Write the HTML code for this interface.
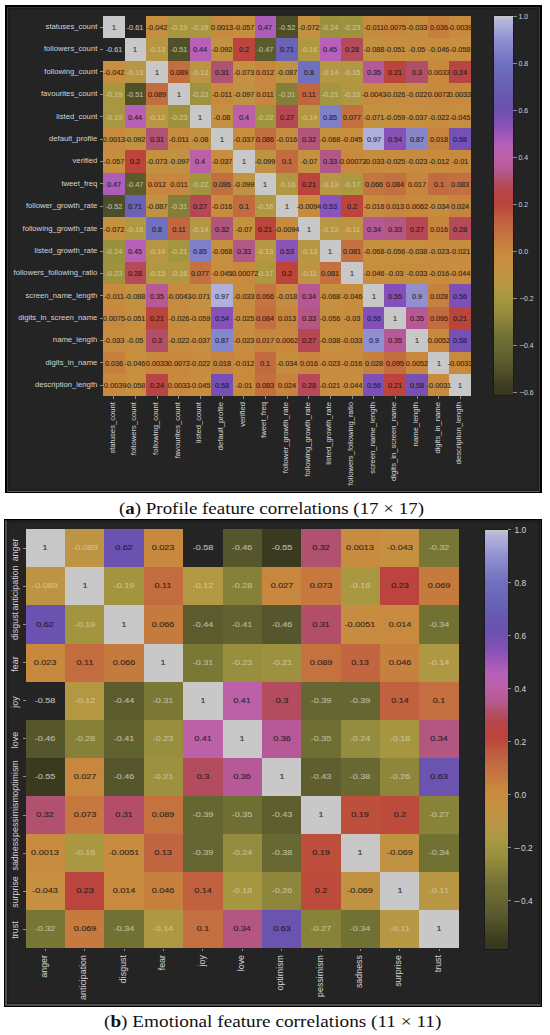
<!DOCTYPE html><html><head><meta charset="utf-8"><style>
*{margin:0;padding:0;box-sizing:border-box}
html,body{width:550px;height:1035px;background:#fff;overflow:hidden;position:relative}
body{font-family:"Liberation Sans",sans-serif}
.panel{position:absolute;background:#242424;border:2px solid #050505;box-shadow:inset 0 0 0 1px #3e3e3e, inset 0 0 0 2px #141414}
.c{position:absolute}
.a{position:absolute;white-space:nowrap;text-align:center;line-height:1;-webkit-text-stroke:0.15px currentColor}
.lbl{position:absolute;white-space:nowrap;color:#d4d4d4;line-height:1}
.tk{position:absolute;background:#8a8a8a}
.cap{position:absolute;white-space:nowrap;font-family:"Liberation Serif",serif;color:#111;line-height:1}
</style></head><body>
<div class="c" style="left:5px;top:5px;width:537px;height:488px;background:#000"></div>
<div class="c" style="left:7px;top:7px;width:533px;height:485px;background:#242424;border-style:solid;border-width:1px;border-color:#2e2e2e #3a3a3a #5c5c5c #3c3c3c;box-shadow:inset 0 0 2px 1px #1a1a1a"></div>
<div class="c" style="left:4px;top:519px;width:538px;height:488px;background:#000"></div>
<div class="c" style="left:5px;top:520px;width:536px;height:486px;background:#242424;border-style:solid;border-width:1px 1px 2px 2px;border-color:#1c1c1c #2a2a2a #4c4c4c #505050;box-shadow:inset 0 0 2px 1px #1a1a1a"></div>
<div class="c" style="left:102.90px;top:15.80px;width:22.26px;height:22.99px;background:#c8c8c8"></div>
<div class="c" style="left:124.56px;top:15.80px;width:22.26px;height:22.99px;background:#252525"></div>
<div class="c" style="left:146.22px;top:15.80px;width:22.26px;height:22.99px;background:#c78e3f"></div>
<div class="c" style="left:167.88px;top:15.80px;width:22.26px;height:22.99px;background:#a89740"></div>
<div class="c" style="left:189.54px;top:15.80px;width:22.26px;height:22.99px;background:#a89740"></div>
<div class="c" style="left:211.20px;top:15.80px;width:22.26px;height:22.99px;background:#c88a3e"></div>
<div class="c" style="left:232.86px;top:15.80px;width:22.26px;height:22.99px;background:#c68f40"></div>
<div class="c" style="left:254.52px;top:15.80px;width:22.26px;height:22.99px;background:#ab5db8"></div>
<div class="c" style="left:276.18px;top:15.80px;width:22.26px;height:22.99px;background:#4d4d27"></div>
<div class="c" style="left:297.84px;top:15.80px;width:22.26px;height:22.99px;background:#c49141"></div>
<div class="c" style="left:319.50px;top:15.80px;width:22.26px;height:22.99px;background:#9b903e"></div>
<div class="c" style="left:341.16px;top:15.80px;width:22.26px;height:22.99px;background:#9e923f"></div>
<div class="c" style="left:362.82px;top:15.80px;width:22.26px;height:22.99px;background:#c88b3e"></div>
<div class="c" style="left:384.48px;top:15.80px;width:22.26px;height:22.99px;background:#c8883e"></div>
<div class="c" style="left:406.14px;top:15.80px;width:22.26px;height:22.99px;background:#c78d3f"></div>
<div class="c" style="left:427.80px;top:15.80px;width:22.26px;height:22.99px;background:#c77f3e"></div>
<div class="c" style="left:449.46px;top:15.80px;width:21.66px;height:22.99px;background:#c88a3e"></div>
<div class="c" style="left:102.90px;top:38.19px;width:22.26px;height:22.99px;background:#252525"></div>
<div class="c" style="left:124.56px;top:38.19px;width:22.26px;height:22.99px;background:#c8c8c8"></div>
<div class="c" style="left:146.22px;top:38.19px;width:22.26px;height:22.99px;background:#b79644"></div>
<div class="c" style="left:167.88px;top:38.19px;width:22.26px;height:22.99px;background:#505029"></div>
<div class="c" style="left:189.54px;top:38.19px;width:22.26px;height:22.99px;background:#b760b5"></div>
<div class="c" style="left:211.20px;top:38.19px;width:22.26px;height:22.99px;background:#c09242"></div>
<div class="c" style="left:232.86px;top:38.19px;width:22.26px;height:22.99px;background:#bc443a"></div>
<div class="c" style="left:254.52px;top:38.19px;width:22.26px;height:22.99px;background:#5b5b2e"></div>
<div class="c" style="left:276.18px;top:38.19px;width:22.26px;height:22.99px;background:#6962b5"></div>
<div class="c" style="left:297.84px;top:38.19px;width:22.26px;height:22.99px;background:#b09843"></div>
<div class="c" style="left:319.50px;top:38.19px;width:22.26px;height:22.99px;background:#b660b8"></div>
<div class="c" style="left:341.16px;top:38.19px;width:22.26px;height:22.99px;background:#b44a5a"></div>
<div class="c" style="left:362.82px;top:38.19px;width:22.26px;height:22.99px;background:#c19242"></div>
<div class="c" style="left:384.48px;top:38.19px;width:22.26px;height:22.99px;background:#c68f40"></div>
<div class="c" style="left:406.14px;top:38.19px;width:22.26px;height:22.99px;background:#c68f40"></div>
<div class="c" style="left:427.80px;top:38.19px;width:22.26px;height:22.99px;background:#c78e3f"></div>
<div class="c" style="left:449.46px;top:38.19px;width:21.66px;height:22.99px;background:#c69040"></div>
<div class="c" style="left:102.90px;top:60.58px;width:22.26px;height:22.99px;background:#c78e3f"></div>
<div class="c" style="left:124.56px;top:60.58px;width:22.26px;height:22.99px;background:#b79644"></div>
<div class="c" style="left:146.22px;top:60.58px;width:22.26px;height:22.99px;background:#c8c8c8"></div>
<div class="c" style="left:167.88px;top:60.58px;width:22.26px;height:22.99px;background:#c36e40"></div>
<div class="c" style="left:189.54px;top:60.58px;width:22.26px;height:22.99px;background:#ba9544"></div>
<div class="c" style="left:211.20px;top:60.58px;width:22.26px;height:22.99px;background:#b05272"></div>
<div class="c" style="left:232.86px;top:60.58px;width:22.26px;height:22.99px;background:#c49141"></div>
<div class="c" style="left:254.52px;top:60.58px;width:22.26px;height:22.99px;background:#c8863e"></div>
<div class="c" style="left:276.18px;top:60.58px;width:22.26px;height:22.99px;background:#c19242"></div>
<div class="c" style="left:297.84px;top:60.58px;width:22.26px;height:22.99px;background:#7070c0"></div>
<div class="c" style="left:319.50px;top:60.58px;width:22.26px;height:22.99px;background:#b59643"></div>
<div class="c" style="left:341.16px;top:60.58px;width:22.26px;height:22.99px;background:#b29743"></div>
<div class="c" style="left:362.82px;top:60.58px;width:22.26px;height:22.99px;background:#b75996"></div>
<div class="c" style="left:384.48px;top:60.58px;width:22.26px;height:22.99px;background:#bb443c"></div>
<div class="c" style="left:406.14px;top:60.58px;width:22.26px;height:22.99px;background:#b14f6a"></div>
<div class="c" style="left:427.80px;top:60.58px;width:22.26px;height:22.99px;background:#c8893e"></div>
<div class="c" style="left:449.46px;top:60.58px;width:21.66px;height:22.99px;background:#b94444"></div>
<div class="c" style="left:102.90px;top:82.97px;width:22.26px;height:22.99px;background:#a89740"></div>
<div class="c" style="left:124.56px;top:82.97px;width:22.26px;height:22.99px;background:#505029"></div>
<div class="c" style="left:146.22px;top:82.97px;width:22.26px;height:22.99px;background:#c36e40"></div>
<div class="c" style="left:167.88px;top:82.97px;width:22.26px;height:22.99px;background:#c8c8c8"></div>
<div class="c" style="left:189.54px;top:82.97px;width:22.26px;height:22.99px;background:#9e923f"></div>
<div class="c" style="left:211.20px;top:82.97px;width:22.26px;height:22.99px;background:#c88b3e"></div>
<div class="c" style="left:232.86px;top:82.97px;width:22.26px;height:22.99px;background:#bf9343"></div>
<div class="c" style="left:254.52px;top:82.97px;width:22.26px;height:22.99px;background:#c8873e"></div>
<div class="c" style="left:276.18px;top:82.97px;width:22.26px;height:22.99px;background:#847f38"></div>
<div class="c" style="left:297.84px;top:82.97px;width:22.26px;height:22.99px;background:#c16740"></div>
<div class="c" style="left:319.50px;top:82.97px;width:22.26px;height:22.99px;background:#a3963f"></div>
<div class="c" style="left:341.16px;top:82.97px;width:22.26px;height:22.99px;background:#b09843"></div>
<div class="c" style="left:362.82px;top:82.97px;width:22.26px;height:22.99px;background:#c88a3e"></div>
<div class="c" style="left:384.48px;top:82.97px;width:22.26px;height:22.99px;background:#c78d3f"></div>
<div class="c" style="left:406.14px;top:82.97px;width:22.26px;height:22.99px;background:#c78c3f"></div>
<div class="c" style="left:427.80px;top:82.97px;width:22.26px;height:22.99px;background:#c8883e"></div>
<div class="c" style="left:449.46px;top:82.97px;width:21.66px;height:22.99px;background:#c8893e"></div>
<div class="c" style="left:102.90px;top:105.36px;width:22.26px;height:22.99px;background:#a89740"></div>
<div class="c" style="left:124.56px;top:105.36px;width:22.26px;height:22.99px;background:#b760b5"></div>
<div class="c" style="left:146.22px;top:105.36px;width:22.26px;height:22.99px;background:#ba9544"></div>
<div class="c" style="left:167.88px;top:105.36px;width:22.26px;height:22.99px;background:#9e923f"></div>
<div class="c" style="left:189.54px;top:105.36px;width:22.26px;height:22.99px;background:#c8c8c8"></div>
<div class="c" style="left:211.20px;top:105.36px;width:22.26px;height:22.99px;background:#c29141"></div>
<div class="c" style="left:232.86px;top:105.36px;width:22.26px;height:22.99px;background:#bc60a8"></div>
<div class="c" style="left:254.52px;top:105.36px;width:22.26px;height:22.99px;background:#a0943f"></div>
<div class="c" style="left:276.18px;top:105.36px;width:22.26px;height:22.99px;background:#b54853"></div>
<div class="c" style="left:297.84px;top:105.36px;width:22.26px;height:22.99px;background:#b59643"></div>
<div class="c" style="left:319.50px;top:105.36px;width:22.26px;height:22.99px;background:#8080c8"></div>
<div class="c" style="left:341.16px;top:105.36px;width:22.26px;height:22.99px;background:#c4713f"></div>
<div class="c" style="left:362.82px;top:105.36px;width:22.26px;height:22.99px;background:#c49141"></div>
<div class="c" style="left:384.48px;top:105.36px;width:22.26px;height:22.99px;background:#c69040"></div>
<div class="c" style="left:406.14px;top:105.36px;width:22.26px;height:22.99px;background:#c78e3f"></div>
<div class="c" style="left:427.80px;top:105.36px;width:22.26px;height:22.99px;background:#c78c3f"></div>
<div class="c" style="left:449.46px;top:105.36px;width:21.66px;height:22.99px;background:#c78e3f"></div>
<div class="c" style="left:102.90px;top:127.75px;width:22.26px;height:22.99px;background:#c88a3e"></div>
<div class="c" style="left:124.56px;top:127.75px;width:22.26px;height:22.99px;background:#c09242"></div>
<div class="c" style="left:146.22px;top:127.75px;width:22.26px;height:22.99px;background:#b05272"></div>
<div class="c" style="left:167.88px;top:127.75px;width:22.26px;height:22.99px;background:#c88b3e"></div>
<div class="c" style="left:189.54px;top:127.75px;width:22.26px;height:22.99px;background:#c29141"></div>
<div class="c" style="left:211.20px;top:127.75px;width:22.26px;height:22.99px;background:#c8c8c8"></div>
<div class="c" style="left:232.86px;top:127.75px;width:22.26px;height:22.99px;background:#c78e3f"></div>
<div class="c" style="left:254.52px;top:127.75px;width:22.26px;height:22.99px;background:#c36e3f"></div>
<div class="c" style="left:276.18px;top:127.75px;width:22.26px;height:22.99px;background:#c78c3f"></div>
<div class="c" style="left:297.84px;top:127.75px;width:22.26px;height:22.99px;background:#b1557a"></div>
<div class="c" style="left:319.50px;top:127.75px;width:22.26px;height:22.99px;background:#c59040"></div>
<div class="c" style="left:341.16px;top:127.75px;width:22.26px;height:22.99px;background:#c78e3f"></div>
<div class="c" style="left:362.82px;top:127.75px;width:22.26px;height:22.99px;background:#b0b0da"></div>
<div class="c" style="left:384.48px;top:127.75px;width:22.26px;height:22.99px;background:#8751b8"></div>
<div class="c" style="left:406.14px;top:127.75px;width:22.26px;height:22.99px;background:#8686cb"></div>
<div class="c" style="left:427.80px;top:127.75px;width:22.26px;height:22.99px;background:#c7843e"></div>
<div class="c" style="left:449.46px;top:127.75px;width:21.66px;height:22.99px;background:#7650b3"></div>
<div class="c" style="left:102.90px;top:150.14px;width:22.26px;height:22.99px;background:#c68f40"></div>
<div class="c" style="left:124.56px;top:150.14px;width:22.26px;height:22.99px;background:#bc443a"></div>
<div class="c" style="left:146.22px;top:150.14px;width:22.26px;height:22.99px;background:#c49141"></div>
<div class="c" style="left:167.88px;top:150.14px;width:22.26px;height:22.99px;background:#bf9343"></div>
<div class="c" style="left:189.54px;top:150.14px;width:22.26px;height:22.99px;background:#bc60a8"></div>
<div class="c" style="left:211.20px;top:150.14px;width:22.26px;height:22.99px;background:#c78e3f"></div>
<div class="c" style="left:232.86px;top:150.14px;width:22.26px;height:22.99px;background:#c8c8c8"></div>
<div class="c" style="left:254.52px;top:150.14px;width:22.26px;height:22.99px;background:#be9343"></div>
<div class="c" style="left:276.18px;top:150.14px;width:22.26px;height:22.99px;background:#c26a40"></div>
<div class="c" style="left:297.84px;top:150.14px;width:22.26px;height:22.99px;background:#c49141"></div>
<div class="c" style="left:319.50px;top:150.14px;width:22.26px;height:22.99px;background:#b35785"></div>
<div class="c" style="left:341.16px;top:150.14px;width:22.26px;height:22.99px;background:#c88a3e"></div>
<div class="c" style="left:362.82px;top:150.14px;width:22.26px;height:22.99px;background:#c78d3f"></div>
<div class="c" style="left:384.48px;top:150.14px;width:22.26px;height:22.99px;background:#c78c3f"></div>
<div class="c" style="left:406.14px;top:150.14px;width:22.26px;height:22.99px;background:#c78c3f"></div>
<div class="c" style="left:427.80px;top:150.14px;width:22.26px;height:22.99px;background:#c88b3e"></div>
<div class="c" style="left:449.46px;top:150.14px;width:21.66px;height:22.99px;background:#c88b3e"></div>
<div class="c" style="left:102.90px;top:172.53px;width:22.26px;height:22.99px;background:#ab5db8"></div>
<div class="c" style="left:124.56px;top:172.53px;width:22.26px;height:22.99px;background:#5b5b2e"></div>
<div class="c" style="left:146.22px;top:172.53px;width:22.26px;height:22.99px;background:#c8863e"></div>
<div class="c" style="left:167.88px;top:172.53px;width:22.26px;height:22.99px;background:#c8873e"></div>
<div class="c" style="left:189.54px;top:172.53px;width:22.26px;height:22.99px;background:#a0943f"></div>
<div class="c" style="left:211.20px;top:172.53px;width:22.26px;height:22.99px;background:#c36e3f"></div>
<div class="c" style="left:232.86px;top:172.53px;width:22.26px;height:22.99px;background:#be9343"></div>
<div class="c" style="left:254.52px;top:172.53px;width:22.26px;height:22.99px;background:#c8c8c8"></div>
<div class="c" style="left:276.18px;top:172.53px;width:22.26px;height:22.99px;background:#b09843"></div>
<div class="c" style="left:297.84px;top:172.53px;width:22.26px;height:22.99px;background:#bb443c"></div>
<div class="c" style="left:319.50px;top:172.53px;width:22.26px;height:22.99px;background:#b79644"></div>
<div class="c" style="left:341.16px;top:172.53px;width:22.26px;height:22.99px;background:#ad9842"></div>
<div class="c" style="left:362.82px;top:172.53px;width:22.26px;height:22.99px;background:#c5753f"></div>
<div class="c" style="left:384.48px;top:172.53px;width:22.26px;height:22.99px;background:#c36f3f"></div>
<div class="c" style="left:406.14px;top:172.53px;width:22.26px;height:22.99px;background:#c7853e"></div>
<div class="c" style="left:427.80px;top:172.53px;width:22.26px;height:22.99px;background:#c26a40"></div>
<div class="c" style="left:449.46px;top:172.53px;width:21.66px;height:22.99px;background:#c36f3f"></div>
<div class="c" style="left:102.90px;top:194.92px;width:22.26px;height:22.99px;background:#4d4d27"></div>
<div class="c" style="left:124.56px;top:194.92px;width:22.26px;height:22.99px;background:#6962b5"></div>
<div class="c" style="left:146.22px;top:194.92px;width:22.26px;height:22.99px;background:#c19242"></div>
<div class="c" style="left:167.88px;top:194.92px;width:22.26px;height:22.99px;background:#847f38"></div>
<div class="c" style="left:189.54px;top:194.92px;width:22.26px;height:22.99px;background:#b54853"></div>
<div class="c" style="left:211.20px;top:194.92px;width:22.26px;height:22.99px;background:#c78c3f"></div>
<div class="c" style="left:232.86px;top:194.92px;width:22.26px;height:22.99px;background:#c26a40"></div>
<div class="c" style="left:254.52px;top:194.92px;width:22.26px;height:22.99px;background:#b09843"></div>
<div class="c" style="left:276.18px;top:194.92px;width:22.26px;height:22.99px;background:#c8c8c8"></div>
<div class="c" style="left:297.84px;top:194.92px;width:22.26px;height:22.99px;background:#c88b3e"></div>
<div class="c" style="left:319.50px;top:194.92px;width:22.26px;height:22.99px;background:#8c53b8"></div>
<div class="c" style="left:341.16px;top:194.92px;width:22.26px;height:22.99px;background:#bc443a"></div>
<div class="c" style="left:362.82px;top:194.92px;width:22.26px;height:22.99px;background:#c78c3f"></div>
<div class="c" style="left:384.48px;top:194.92px;width:22.26px;height:22.99px;background:#c7863e"></div>
<div class="c" style="left:406.14px;top:194.92px;width:22.26px;height:22.99px;background:#c8883e"></div>
<div class="c" style="left:427.80px;top:194.92px;width:22.26px;height:22.99px;background:#c78d3f"></div>
<div class="c" style="left:449.46px;top:194.92px;width:21.66px;height:22.99px;background:#c7823e"></div>
<div class="c" style="left:102.90px;top:217.31px;width:22.26px;height:22.99px;background:#c49141"></div>
<div class="c" style="left:124.56px;top:217.31px;width:22.26px;height:22.99px;background:#b09843"></div>
<div class="c" style="left:146.22px;top:217.31px;width:22.26px;height:22.99px;background:#7070c0"></div>
<div class="c" style="left:167.88px;top:217.31px;width:22.26px;height:22.99px;background:#c16740"></div>
<div class="c" style="left:189.54px;top:217.31px;width:22.26px;height:22.99px;background:#b59643"></div>
<div class="c" style="left:211.20px;top:217.31px;width:22.26px;height:22.99px;background:#b1557a"></div>
<div class="c" style="left:232.86px;top:217.31px;width:22.26px;height:22.99px;background:#c49141"></div>
<div class="c" style="left:254.52px;top:217.31px;width:22.26px;height:22.99px;background:#bb443c"></div>
<div class="c" style="left:276.18px;top:217.31px;width:22.26px;height:22.99px;background:#c88b3e"></div>
<div class="c" style="left:297.84px;top:217.31px;width:22.26px;height:22.99px;background:#c8c8c8"></div>
<div class="c" style="left:319.50px;top:217.31px;width:22.26px;height:22.99px;background:#b79644"></div>
<div class="c" style="left:341.16px;top:217.31px;width:22.26px;height:22.99px;background:#bc9444"></div>
<div class="c" style="left:362.82px;top:217.31px;width:22.26px;height:22.99px;background:#b65894"></div>
<div class="c" style="left:384.48px;top:217.31px;width:22.26px;height:22.99px;background:#b35785"></div>
<div class="c" style="left:406.14px;top:217.31px;width:22.26px;height:22.99px;background:#b54853"></div>
<div class="c" style="left:427.80px;top:217.31px;width:22.26px;height:22.99px;background:#c7853e"></div>
<div class="c" style="left:449.46px;top:217.31px;width:21.66px;height:22.99px;background:#b44a5a"></div>
<div class="c" style="left:102.90px;top:239.70px;width:22.26px;height:22.99px;background:#9b903e"></div>
<div class="c" style="left:124.56px;top:239.70px;width:22.26px;height:22.99px;background:#b660b8"></div>
<div class="c" style="left:146.22px;top:239.70px;width:22.26px;height:22.99px;background:#b59643"></div>
<div class="c" style="left:167.88px;top:239.70px;width:22.26px;height:22.99px;background:#a3963f"></div>
<div class="c" style="left:189.54px;top:239.70px;width:22.26px;height:22.99px;background:#8080c8"></div>
<div class="c" style="left:211.20px;top:239.70px;width:22.26px;height:22.99px;background:#c59040"></div>
<div class="c" style="left:232.86px;top:239.70px;width:22.26px;height:22.99px;background:#b35785"></div>
<div class="c" style="left:254.52px;top:239.70px;width:22.26px;height:22.99px;background:#b79644"></div>
<div class="c" style="left:276.18px;top:239.70px;width:22.26px;height:22.99px;background:#8c53b8"></div>
<div class="c" style="left:297.84px;top:239.70px;width:22.26px;height:22.99px;background:#b79644"></div>
<div class="c" style="left:319.50px;top:239.70px;width:22.26px;height:22.99px;background:#c8c8c8"></div>
<div class="c" style="left:341.16px;top:239.70px;width:22.26px;height:22.99px;background:#c4703f"></div>
<div class="c" style="left:362.82px;top:239.70px;width:22.26px;height:22.99px;background:#c59040"></div>
<div class="c" style="left:384.48px;top:239.70px;width:22.26px;height:22.99px;background:#c68f40"></div>
<div class="c" style="left:406.14px;top:239.70px;width:22.26px;height:22.99px;background:#c78e3f"></div>
<div class="c" style="left:427.80px;top:239.70px;width:22.26px;height:22.99px;background:#c78c3f"></div>
<div class="c" style="left:449.46px;top:239.70px;width:21.66px;height:22.99px;background:#c78c3f"></div>
<div class="c" style="left:102.90px;top:262.09px;width:22.26px;height:22.99px;background:#9e923f"></div>
<div class="c" style="left:124.56px;top:262.09px;width:22.26px;height:22.99px;background:#b44a5a"></div>
<div class="c" style="left:146.22px;top:262.09px;width:22.26px;height:22.99px;background:#b29743"></div>
<div class="c" style="left:167.88px;top:262.09px;width:22.26px;height:22.99px;background:#b09843"></div>
<div class="c" style="left:189.54px;top:262.09px;width:22.26px;height:22.99px;background:#c4713f"></div>
<div class="c" style="left:211.20px;top:262.09px;width:22.26px;height:22.99px;background:#c78e3f"></div>
<div class="c" style="left:232.86px;top:262.09px;width:22.26px;height:22.99px;background:#c88a3e"></div>
<div class="c" style="left:254.52px;top:262.09px;width:22.26px;height:22.99px;background:#ad9842"></div>
<div class="c" style="left:276.18px;top:262.09px;width:22.26px;height:22.99px;background:#bc443a"></div>
<div class="c" style="left:297.84px;top:262.09px;width:22.26px;height:22.99px;background:#bc9444"></div>
<div class="c" style="left:319.50px;top:262.09px;width:22.26px;height:22.99px;background:#c4703f"></div>
<div class="c" style="left:341.16px;top:262.09px;width:22.26px;height:22.99px;background:#c8c8c8"></div>
<div class="c" style="left:362.82px;top:262.09px;width:22.26px;height:22.99px;background:#c78e3f"></div>
<div class="c" style="left:384.48px;top:262.09px;width:22.26px;height:22.99px;background:#c78d3f"></div>
<div class="c" style="left:406.14px;top:262.09px;width:22.26px;height:22.99px;background:#c78d3f"></div>
<div class="c" style="left:427.80px;top:262.09px;width:22.26px;height:22.99px;background:#c78c3f"></div>
<div class="c" style="left:449.46px;top:262.09px;width:21.66px;height:22.99px;background:#c78e3f"></div>
<div class="c" style="left:102.90px;top:284.48px;width:22.26px;height:22.99px;background:#c88b3e"></div>
<div class="c" style="left:124.56px;top:284.48px;width:22.26px;height:22.99px;background:#c19242"></div>
<div class="c" style="left:146.22px;top:284.48px;width:22.26px;height:22.99px;background:#b75996"></div>
<div class="c" style="left:167.88px;top:284.48px;width:22.26px;height:22.99px;background:#c88a3e"></div>
<div class="c" style="left:189.54px;top:284.48px;width:22.26px;height:22.99px;background:#c49141"></div>
<div class="c" style="left:211.20px;top:284.48px;width:22.26px;height:22.99px;background:#b0b0da"></div>
<div class="c" style="left:232.86px;top:284.48px;width:22.26px;height:22.99px;background:#c78d3f"></div>
<div class="c" style="left:254.52px;top:284.48px;width:22.26px;height:22.99px;background:#c5753f"></div>
<div class="c" style="left:276.18px;top:284.48px;width:22.26px;height:22.99px;background:#c78c3f"></div>
<div class="c" style="left:297.84px;top:284.48px;width:22.26px;height:22.99px;background:#b65894"></div>
<div class="c" style="left:319.50px;top:284.48px;width:22.26px;height:22.99px;background:#c59040"></div>
<div class="c" style="left:341.16px;top:284.48px;width:22.26px;height:22.99px;background:#c78e3f"></div>
<div class="c" style="left:362.82px;top:284.48px;width:22.26px;height:22.99px;background:#c8c8c8"></div>
<div class="c" style="left:384.48px;top:284.48px;width:22.26px;height:22.99px;background:#8250b8"></div>
<div class="c" style="left:406.14px;top:284.48px;width:22.26px;height:22.99px;background:#9090d0"></div>
<div class="c" style="left:427.80px;top:284.48px;width:22.26px;height:22.99px;background:#c7813e"></div>
<div class="c" style="left:449.46px;top:284.48px;width:21.66px;height:22.99px;background:#7e50b6"></div>
<div class="c" style="left:102.90px;top:306.87px;width:22.26px;height:22.99px;background:#c8883e"></div>
<div class="c" style="left:124.56px;top:306.87px;width:22.26px;height:22.99px;background:#c68f40"></div>
<div class="c" style="left:146.22px;top:306.87px;width:22.26px;height:22.99px;background:#bb443c"></div>
<div class="c" style="left:167.88px;top:306.87px;width:22.26px;height:22.99px;background:#c78d3f"></div>
<div class="c" style="left:189.54px;top:306.87px;width:22.26px;height:22.99px;background:#c69040"></div>
<div class="c" style="left:211.20px;top:306.87px;width:22.26px;height:22.99px;background:#8751b8"></div>
<div class="c" style="left:232.86px;top:306.87px;width:22.26px;height:22.99px;background:#c78c3f"></div>
<div class="c" style="left:254.52px;top:306.87px;width:22.26px;height:22.99px;background:#c36f3f"></div>
<div class="c" style="left:276.18px;top:306.87px;width:22.26px;height:22.99px;background:#c7863e"></div>
<div class="c" style="left:297.84px;top:306.87px;width:22.26px;height:22.99px;background:#b35785"></div>
<div class="c" style="left:319.50px;top:306.87px;width:22.26px;height:22.99px;background:#c68f40"></div>
<div class="c" style="left:341.16px;top:306.87px;width:22.26px;height:22.99px;background:#c78d3f"></div>
<div class="c" style="left:362.82px;top:306.87px;width:22.26px;height:22.99px;background:#8250b8"></div>
<div class="c" style="left:384.48px;top:306.87px;width:22.26px;height:22.99px;background:#c8c8c8"></div>
<div class="c" style="left:406.14px;top:306.87px;width:22.26px;height:22.99px;background:#b75996"></div>
<div class="c" style="left:427.80px;top:306.87px;width:22.26px;height:22.99px;background:#c26c40"></div>
<div class="c" style="left:449.46px;top:306.87px;width:21.66px;height:22.99px;background:#bb443c"></div>
<div class="c" style="left:102.90px;top:329.26px;width:22.26px;height:22.99px;background:#c78d3f"></div>
<div class="c" style="left:124.56px;top:329.26px;width:22.26px;height:22.99px;background:#c68f40"></div>
<div class="c" style="left:146.22px;top:329.26px;width:22.26px;height:22.99px;background:#b14f6a"></div>
<div class="c" style="left:167.88px;top:329.26px;width:22.26px;height:22.99px;background:#c78c3f"></div>
<div class="c" style="left:189.54px;top:329.26px;width:22.26px;height:22.99px;background:#c78e3f"></div>
<div class="c" style="left:211.20px;top:329.26px;width:22.26px;height:22.99px;background:#8686cb"></div>
<div class="c" style="left:232.86px;top:329.26px;width:22.26px;height:22.99px;background:#c78c3f"></div>
<div class="c" style="left:254.52px;top:329.26px;width:22.26px;height:22.99px;background:#c7853e"></div>
<div class="c" style="left:276.18px;top:329.26px;width:22.26px;height:22.99px;background:#c8883e"></div>
<div class="c" style="left:297.84px;top:329.26px;width:22.26px;height:22.99px;background:#b54853"></div>
<div class="c" style="left:319.50px;top:329.26px;width:22.26px;height:22.99px;background:#c78e3f"></div>
<div class="c" style="left:341.16px;top:329.26px;width:22.26px;height:22.99px;background:#c78d3f"></div>
<div class="c" style="left:362.82px;top:329.26px;width:22.26px;height:22.99px;background:#9090d0"></div>
<div class="c" style="left:384.48px;top:329.26px;width:22.26px;height:22.99px;background:#b75996"></div>
<div class="c" style="left:406.14px;top:329.26px;width:22.26px;height:22.99px;background:#c8c8c8"></div>
<div class="c" style="left:427.80px;top:329.26px;width:22.26px;height:22.99px;background:#c8883e"></div>
<div class="c" style="left:449.46px;top:329.26px;width:21.66px;height:22.99px;background:#7650b3"></div>
<div class="c" style="left:102.90px;top:351.65px;width:22.26px;height:22.99px;background:#c77f3e"></div>
<div class="c" style="left:124.56px;top:351.65px;width:22.26px;height:22.99px;background:#c78e3f"></div>
<div class="c" style="left:146.22px;top:351.65px;width:22.26px;height:22.99px;background:#c8893e"></div>
<div class="c" style="left:167.88px;top:351.65px;width:22.26px;height:22.99px;background:#c8883e"></div>
<div class="c" style="left:189.54px;top:351.65px;width:22.26px;height:22.99px;background:#c78c3f"></div>
<div class="c" style="left:211.20px;top:351.65px;width:22.26px;height:22.99px;background:#c7843e"></div>
<div class="c" style="left:232.86px;top:351.65px;width:22.26px;height:22.99px;background:#c88b3e"></div>
<div class="c" style="left:254.52px;top:351.65px;width:22.26px;height:22.99px;background:#c26a40"></div>
<div class="c" style="left:276.18px;top:351.65px;width:22.26px;height:22.99px;background:#c78d3f"></div>
<div class="c" style="left:297.84px;top:351.65px;width:22.26px;height:22.99px;background:#c7853e"></div>
<div class="c" style="left:319.50px;top:351.65px;width:22.26px;height:22.99px;background:#c78c3f"></div>
<div class="c" style="left:341.16px;top:351.65px;width:22.26px;height:22.99px;background:#c78c3f"></div>
<div class="c" style="left:362.82px;top:351.65px;width:22.26px;height:22.99px;background:#c7813e"></div>
<div class="c" style="left:384.48px;top:351.65px;width:22.26px;height:22.99px;background:#c26c40"></div>
<div class="c" style="left:406.14px;top:351.65px;width:22.26px;height:22.99px;background:#c8883e"></div>
<div class="c" style="left:427.80px;top:351.65px;width:22.26px;height:22.99px;background:#c8c8c8"></div>
<div class="c" style="left:449.46px;top:351.65px;width:21.66px;height:22.99px;background:#c88a3e"></div>
<div class="c" style="left:102.90px;top:374.04px;width:22.26px;height:22.39px;background:#c88a3e"></div>
<div class="c" style="left:124.56px;top:374.04px;width:22.26px;height:22.39px;background:#c69040"></div>
<div class="c" style="left:146.22px;top:374.04px;width:22.26px;height:22.39px;background:#b94444"></div>
<div class="c" style="left:167.88px;top:374.04px;width:22.26px;height:22.39px;background:#c8893e"></div>
<div class="c" style="left:189.54px;top:374.04px;width:22.26px;height:22.39px;background:#c78e3f"></div>
<div class="c" style="left:211.20px;top:374.04px;width:22.26px;height:22.39px;background:#7650b3"></div>
<div class="c" style="left:232.86px;top:374.04px;width:22.26px;height:22.39px;background:#c88b3e"></div>
<div class="c" style="left:254.52px;top:374.04px;width:22.26px;height:22.39px;background:#c36f3f"></div>
<div class="c" style="left:276.18px;top:374.04px;width:22.26px;height:22.39px;background:#c7823e"></div>
<div class="c" style="left:297.84px;top:374.04px;width:22.26px;height:22.39px;background:#b44a5a"></div>
<div class="c" style="left:319.50px;top:374.04px;width:22.26px;height:22.39px;background:#c78c3f"></div>
<div class="c" style="left:341.16px;top:374.04px;width:22.26px;height:22.39px;background:#c78e3f"></div>
<div class="c" style="left:362.82px;top:374.04px;width:22.26px;height:22.39px;background:#7e50b6"></div>
<div class="c" style="left:384.48px;top:374.04px;width:22.26px;height:22.39px;background:#bb443c"></div>
<div class="c" style="left:406.14px;top:374.04px;width:22.26px;height:22.39px;background:#7650b3"></div>
<div class="c" style="left:427.80px;top:374.04px;width:22.26px;height:22.39px;background:#c88a3e"></div>
<div class="c" style="left:449.46px;top:374.04px;width:21.66px;height:22.39px;background:#c8c8c8"></div>
<div class="a" style="left:113.73px;top:27.00px;font-size:7.00px;color:#383838;transform:translate(-50%,-50%) scaleX(1.040)">1</div>
<div class="a" style="left:135.39px;top:27.00px;font-size:7.00px;color:#b9b9b3;transform:translate(-50%,-50%) scaleX(1.040)">-0.61</div>
<div class="a" style="left:157.05px;top:27.00px;font-size:7.00px;color:#382c1d;transform:translate(-50%,-50%) scaleX(1.040)">-0.042</div>
<div class="a" style="left:178.71px;top:27.00px;font-size:7.00px;color:#cbc18e;transform:translate(-50%,-50%) scaleX(1.040)">-0.19</div>
<div class="a" style="left:200.37px;top:27.00px;font-size:7.00px;color:#cbc18e;transform:translate(-50%,-50%) scaleX(1.040)">-0.19</div>
<div class="a" style="left:222.03px;top:27.00px;font-size:7.00px;color:#382c1c;transform:translate(-50%,-50%) scaleX(1.040)">0.0013</div>
<div class="a" style="left:243.69px;top:27.00px;font-size:7.00px;color:#382d1d;transform:translate(-50%,-50%) scaleX(1.040)">-0.057</div>
<div class="a" style="left:265.35px;top:27.00px;font-size:7.00px;color:#322335;transform:translate(-50%,-50%) scaleX(1.040)">0.47</div>
<div class="a" style="left:287.01px;top:27.00px;font-size:7.00px;color:#b6b6a3;transform:translate(-50%,-50%) scaleX(1.040)">-0.52</div>
<div class="a" style="left:308.67px;top:27.00px;font-size:7.00px;color:#372d1d;transform:translate(-50%,-50%) scaleX(1.040)">-0.072</div>
<div class="a" style="left:330.33px;top:27.00px;font-size:7.00px;color:#c5c091;transform:translate(-50%,-50%) scaleX(1.040)">-0.24</div>
<div class="a" style="left:351.99px;top:27.00px;font-size:7.00px;color:#c6c090;transform:translate(-50%,-50%) scaleX(1.040)">-0.23</div>
<div class="a" style="left:373.65px;top:27.00px;font-size:7.00px;color:#382c1c;transform:translate(-50%,-50%) scaleX(1.040)">-0.011</div>
<div class="a" style="left:395.31px;top:27.00px;font-size:7.00px;color:#382b1c;transform:translate(-50%,-50%) scaleX(1.040)">0.0075</div>
<div class="a" style="left:416.97px;top:27.00px;font-size:7.00px;color:#382c1d;transform:translate(-50%,-50%) scaleX(1.040)">-0.033</div>
<div class="a" style="left:438.63px;top:27.00px;font-size:7.00px;color:#38291c;transform:translate(-50%,-50%) scaleX(1.040)">0.036</div>
<div class="a" style="left:460.29px;top:27.00px;font-size:7.00px;color:#382c1c;transform:translate(-50%,-50%) scaleX(1.040)">-0.0039</div>
<div class="a" style="left:113.73px;top:49.39px;font-size:7.00px;color:#b9b9b3;transform:translate(-50%,-50%) scaleX(1.040)">-0.61</div>
<div class="a" style="left:135.39px;top:49.39px;font-size:7.00px;color:#383838;transform:translate(-50%,-50%) scaleX(1.040)">1</div>
<div class="a" style="left:157.05px;top:49.39px;font-size:7.00px;color:#d2c08f;transform:translate(-50%,-50%) scaleX(1.040)">-0.13</div>
<div class="a" style="left:178.71px;top:49.39px;font-size:7.00px;color:#b6b6a2;transform:translate(-50%,-50%) scaleX(1.040)">-0.51</div>
<div class="a" style="left:200.37px;top:49.39px;font-size:7.00px;color:#352334;transform:translate(-50%,-50%) scaleX(1.040)">0.44</div>
<div class="a" style="left:222.03px;top:49.39px;font-size:7.00px;color:#362d1d;transform:translate(-50%,-50%) scaleX(1.040)">-0.092</div>
<div class="a" style="left:243.69px;top:49.39px;font-size:7.00px;color:#361e1c;transform:translate(-50%,-50%) scaleX(1.040)">0.2</div>
<div class="a" style="left:265.35px;top:49.39px;font-size:7.00px;color:#b6b6a0;transform:translate(-50%,-50%) scaleX(1.040)">-0.47</div>
<div class="a" style="left:287.01px;top:49.39px;font-size:7.00px;color:#252434;transform:translate(-50%,-50%) scaleX(1.040)">0.71</div>
<div class="a" style="left:308.67px;top:49.39px;font-size:7.00px;color:#cec18f;transform:translate(-50%,-50%) scaleX(1.040)">-0.16</div>
<div class="a" style="left:330.33px;top:49.39px;font-size:7.00px;color:#342335;transform:translate(-50%,-50%) scaleX(1.040)">0.45</div>
<div class="a" style="left:351.99px;top:49.39px;font-size:7.00px;color:#341f22;transform:translate(-50%,-50%) scaleX(1.040)">0.28</div>
<div class="a" style="left:373.65px;top:49.39px;font-size:7.00px;color:#372d1d;transform:translate(-50%,-50%) scaleX(1.040)">-0.088</div>
<div class="a" style="left:395.31px;top:49.39px;font-size:7.00px;color:#382d1d;transform:translate(-50%,-50%) scaleX(1.040)">-0.051</div>
<div class="a" style="left:416.97px;top:49.39px;font-size:7.00px;color:#382d1d;transform:translate(-50%,-50%) scaleX(1.040)">-0.05</div>
<div class="a" style="left:438.63px;top:49.39px;font-size:7.00px;color:#382c1d;transform:translate(-50%,-50%) scaleX(1.040)">-0.046</div>
<div class="a" style="left:460.29px;top:49.39px;font-size:7.00px;color:#382d1d;transform:translate(-50%,-50%) scaleX(1.040)">-0.058</div>
<div class="a" style="left:113.73px;top:71.78px;font-size:7.00px;color:#382c1d;transform:translate(-50%,-50%) scaleX(1.040)">-0.042</div>
<div class="a" style="left:135.39px;top:71.78px;font-size:7.00px;color:#d2c08f;transform:translate(-50%,-50%) scaleX(1.040)">-0.13</div>
<div class="a" style="left:157.05px;top:71.78px;font-size:7.00px;color:#383838;transform:translate(-50%,-50%) scaleX(1.040)">1</div>
<div class="a" style="left:178.71px;top:71.78px;font-size:7.00px;color:#37261d;transform:translate(-50%,-50%) scaleX(1.040)">0.089</div>
<div class="a" style="left:200.37px;top:71.78px;font-size:7.00px;color:#d4bf8f;transform:translate(-50%,-50%) scaleX(1.040)">-0.12</div>
<div class="a" style="left:222.03px;top:71.78px;font-size:7.00px;color:#332027;transform:translate(-50%,-50%) scaleX(1.040)">0.31</div>
<div class="a" style="left:243.69px;top:71.78px;font-size:7.00px;color:#372d1d;transform:translate(-50%,-50%) scaleX(1.040)">-0.073</div>
<div class="a" style="left:265.35px;top:71.78px;font-size:7.00px;color:#382b1c;transform:translate(-50%,-50%) scaleX(1.040)">0.012</div>
<div class="a" style="left:287.01px;top:71.78px;font-size:7.00px;color:#372d1d;transform:translate(-50%,-50%) scaleX(1.040)">-0.087</div>
<div class="a" style="left:308.67px;top:71.78px;font-size:7.00px;color:#262636;transform:translate(-50%,-50%) scaleX(1.040)">0.8</div>
<div class="a" style="left:330.33px;top:71.78px;font-size:7.00px;color:#d1c08f;transform:translate(-50%,-50%) scaleX(1.040)">-0.14</div>
<div class="a" style="left:351.99px;top:71.78px;font-size:7.00px;color:#d0c18f;transform:translate(-50%,-50%) scaleX(1.040)">-0.15</div>
<div class="a" style="left:373.65px;top:71.78px;font-size:7.00px;color:#35222e;transform:translate(-50%,-50%) scaleX(1.040)">0.35</div>
<div class="a" style="left:395.31px;top:71.78px;font-size:7.00px;color:#351e1c;transform:translate(-50%,-50%) scaleX(1.040)">0.21</div>
<div class="a" style="left:416.97px;top:71.78px;font-size:7.00px;color:#332025;transform:translate(-50%,-50%) scaleX(1.040)">0.3</div>
<div class="a" style="left:438.63px;top:71.78px;font-size:7.00px;color:#382b1c;transform:translate(-50%,-50%) scaleX(1.040)">0.0033</div>
<div class="a" style="left:460.29px;top:71.78px;font-size:7.00px;color:#351e1e;transform:translate(-50%,-50%) scaleX(1.040)">0.24</div>
<div class="a" style="left:113.73px;top:94.17px;font-size:7.00px;color:#cbc18e;transform:translate(-50%,-50%) scaleX(1.040)">-0.19</div>
<div class="a" style="left:135.39px;top:94.17px;font-size:7.00px;color:#b6b6a2;transform:translate(-50%,-50%) scaleX(1.040)">-0.51</div>
<div class="a" style="left:157.05px;top:94.17px;font-size:7.00px;color:#37261d;transform:translate(-50%,-50%) scaleX(1.040)">0.089</div>
<div class="a" style="left:178.71px;top:94.17px;font-size:7.00px;color:#383838;transform:translate(-50%,-50%) scaleX(1.040)">1</div>
<div class="a" style="left:200.37px;top:94.17px;font-size:7.00px;color:#c6c090;transform:translate(-50%,-50%) scaleX(1.040)">-0.23</div>
<div class="a" style="left:222.03px;top:94.17px;font-size:7.00px;color:#382c1c;transform:translate(-50%,-50%) scaleX(1.040)">-0.011</div>
<div class="a" style="left:243.69px;top:94.17px;font-size:7.00px;color:#362d1d;transform:translate(-50%,-50%) scaleX(1.040)">-0.097</div>
<div class="a" style="left:265.35px;top:94.17px;font-size:7.00px;color:#382b1c;transform:translate(-50%,-50%) scaleX(1.040)">0.011</div>
<div class="a" style="left:287.01px;top:94.17px;font-size:7.00px;color:#bebb95;transform:translate(-50%,-50%) scaleX(1.040)">-0.31</div>
<div class="a" style="left:308.67px;top:94.17px;font-size:7.00px;color:#37251d;transform:translate(-50%,-50%) scaleX(1.040)">0.11</div>
<div class="a" style="left:330.33px;top:94.17px;font-size:7.00px;color:#c8c18f;transform:translate(-50%,-50%) scaleX(1.040)">-0.21</div>
<div class="a" style="left:351.99px;top:94.17px;font-size:7.00px;color:#cec18f;transform:translate(-50%,-50%) scaleX(1.040)">-0.16</div>
<div class="a" style="left:373.65px;top:94.17px;font-size:7.00px;color:#382c1c;transform:translate(-50%,-50%) scaleX(1.040)">-0.0043</div>
<div class="a" style="left:395.31px;top:94.17px;font-size:7.00px;color:#382c1d;transform:translate(-50%,-50%) scaleX(1.040)">-0.026</div>
<div class="a" style="left:416.97px;top:94.17px;font-size:7.00px;color:#382c1d;transform:translate(-50%,-50%) scaleX(1.040)">-0.022</div>
<div class="a" style="left:438.63px;top:94.17px;font-size:7.00px;color:#382b1c;transform:translate(-50%,-50%) scaleX(1.040)">0.0072</div>
<div class="a" style="left:460.29px;top:94.17px;font-size:7.00px;color:#382b1c;transform:translate(-50%,-50%) scaleX(1.040)">0.0033</div>
<div class="a" style="left:113.73px;top:116.55px;font-size:7.00px;color:#cbc18e;transform:translate(-50%,-50%) scaleX(1.040)">-0.19</div>
<div class="a" style="left:135.39px;top:116.55px;font-size:7.00px;color:#352334;transform:translate(-50%,-50%) scaleX(1.040)">0.44</div>
<div class="a" style="left:157.05px;top:116.55px;font-size:7.00px;color:#d4bf8f;transform:translate(-50%,-50%) scaleX(1.040)">-0.12</div>
<div class="a" style="left:178.71px;top:116.55px;font-size:7.00px;color:#c6c090;transform:translate(-50%,-50%) scaleX(1.040)">-0.23</div>
<div class="a" style="left:200.37px;top:116.55px;font-size:7.00px;color:#383838;transform:translate(-50%,-50%) scaleX(1.040)">1</div>
<div class="a" style="left:222.03px;top:116.55px;font-size:7.00px;color:#372d1d;transform:translate(-50%,-50%) scaleX(1.040)">-0.08</div>
<div class="a" style="left:243.69px;top:116.55px;font-size:7.00px;color:#362332;transform:translate(-50%,-50%) scaleX(1.040)">0.4</div>
<div class="a" style="left:265.35px;top:116.55px;font-size:7.00px;color:#c7c190;transform:translate(-50%,-50%) scaleX(1.040)">-0.22</div>
<div class="a" style="left:287.01px;top:116.55px;font-size:7.00px;color:#341e21;transform:translate(-50%,-50%) scaleX(1.040)">0.27</div>
<div class="a" style="left:308.67px;top:116.55px;font-size:7.00px;color:#d1c08f;transform:translate(-50%,-50%) scaleX(1.040)">-0.14</div>
<div class="a" style="left:330.33px;top:116.55px;font-size:7.00px;color:#2a2a38;transform:translate(-50%,-50%) scaleX(1.040)">0.85</div>
<div class="a" style="left:351.99px;top:116.55px;font-size:7.00px;color:#37271d;transform:translate(-50%,-50%) scaleX(1.040)">0.077</div>
<div class="a" style="left:373.65px;top:116.55px;font-size:7.00px;color:#372d1d;transform:translate(-50%,-50%) scaleX(1.040)">-0.071</div>
<div class="a" style="left:395.31px;top:116.55px;font-size:7.00px;color:#382d1d;transform:translate(-50%,-50%) scaleX(1.040)">-0.059</div>
<div class="a" style="left:416.97px;top:116.55px;font-size:7.00px;color:#382c1d;transform:translate(-50%,-50%) scaleX(1.040)">-0.037</div>
<div class="a" style="left:438.63px;top:116.55px;font-size:7.00px;color:#382c1d;transform:translate(-50%,-50%) scaleX(1.040)">-0.022</div>
<div class="a" style="left:460.29px;top:116.55px;font-size:7.00px;color:#382c1d;transform:translate(-50%,-50%) scaleX(1.040)">-0.045</div>
<div class="a" style="left:113.73px;top:138.95px;font-size:7.00px;color:#382c1c;transform:translate(-50%,-50%) scaleX(1.040)">0.0013</div>
<div class="a" style="left:135.39px;top:138.95px;font-size:7.00px;color:#362d1d;transform:translate(-50%,-50%) scaleX(1.040)">-0.092</div>
<div class="a" style="left:157.05px;top:138.95px;font-size:7.00px;color:#332027;transform:translate(-50%,-50%) scaleX(1.040)">0.31</div>
<div class="a" style="left:178.71px;top:138.95px;font-size:7.00px;color:#382c1c;transform:translate(-50%,-50%) scaleX(1.040)">-0.011</div>
<div class="a" style="left:200.37px;top:138.95px;font-size:7.00px;color:#372d1d;transform:translate(-50%,-50%) scaleX(1.040)">-0.08</div>
<div class="a" style="left:222.03px;top:138.95px;font-size:7.00px;color:#383838;transform:translate(-50%,-50%) scaleX(1.040)">1</div>
<div class="a" style="left:243.69px;top:138.95px;font-size:7.00px;color:#382c1d;transform:translate(-50%,-50%) scaleX(1.040)">-0.037</div>
<div class="a" style="left:265.35px;top:138.95px;font-size:7.00px;color:#37261d;transform:translate(-50%,-50%) scaleX(1.040)">0.086</div>
<div class="a" style="left:287.01px;top:138.95px;font-size:7.00px;color:#382c1d;transform:translate(-50%,-50%) scaleX(1.040)">-0.016</div>
<div class="a" style="left:308.67px;top:138.95px;font-size:7.00px;color:#332128;transform:translate(-50%,-50%) scaleX(1.040)">0.32</div>
<div class="a" style="left:330.33px;top:138.95px;font-size:7.00px;color:#372d1d;transform:translate(-50%,-50%) scaleX(1.040)">-0.068</div>
<div class="a" style="left:351.99px;top:138.95px;font-size:7.00px;color:#382c1d;transform:translate(-50%,-50%) scaleX(1.040)">-0.045</div>
<div class="a" style="left:373.65px;top:138.95px;font-size:7.00px;color:#33333c;transform:translate(-50%,-50%) scaleX(1.040)">0.97</div>
<div class="a" style="left:395.31px;top:138.95px;font-size:7.00px;color:#2b2035;transform:translate(-50%,-50%) scaleX(1.040)">0.54</div>
<div class="a" style="left:416.97px;top:138.95px;font-size:7.00px;color:#2b2b39;transform:translate(-50%,-50%) scaleX(1.040)">0.87</div>
<div class="a" style="left:438.63px;top:138.95px;font-size:7.00px;color:#382a1c;transform:translate(-50%,-50%) scaleX(1.040)">0.018</div>
<div class="a" style="left:460.29px;top:138.95px;font-size:7.00px;color:#282034;transform:translate(-50%,-50%) scaleX(1.040)">0.58</div>
<div class="a" style="left:113.73px;top:161.34px;font-size:7.00px;color:#382d1d;transform:translate(-50%,-50%) scaleX(1.040)">-0.057</div>
<div class="a" style="left:135.39px;top:161.34px;font-size:7.00px;color:#361e1c;transform:translate(-50%,-50%) scaleX(1.040)">0.2</div>
<div class="a" style="left:157.05px;top:161.34px;font-size:7.00px;color:#372d1d;transform:translate(-50%,-50%) scaleX(1.040)">-0.073</div>
<div class="a" style="left:178.71px;top:161.34px;font-size:7.00px;color:#362d1d;transform:translate(-50%,-50%) scaleX(1.040)">-0.097</div>
<div class="a" style="left:200.37px;top:161.34px;font-size:7.00px;color:#362332;transform:translate(-50%,-50%) scaleX(1.040)">0.4</div>
<div class="a" style="left:222.03px;top:161.34px;font-size:7.00px;color:#382c1d;transform:translate(-50%,-50%) scaleX(1.040)">-0.037</div>
<div class="a" style="left:243.69px;top:161.34px;font-size:7.00px;color:#383838;transform:translate(-50%,-50%) scaleX(1.040)">1</div>
<div class="a" style="left:265.35px;top:161.34px;font-size:7.00px;color:#362d1d;transform:translate(-50%,-50%) scaleX(1.040)">-0.099</div>
<div class="a" style="left:287.01px;top:161.34px;font-size:7.00px;color:#37251d;transform:translate(-50%,-50%) scaleX(1.040)">0.1</div>
<div class="a" style="left:308.67px;top:161.34px;font-size:7.00px;color:#372d1d;transform:translate(-50%,-50%) scaleX(1.040)">-0.07</div>
<div class="a" style="left:330.33px;top:161.34px;font-size:7.00px;color:#34212b;transform:translate(-50%,-50%) scaleX(1.040)">0.33</div>
<div class="a" style="left:351.99px;top:161.34px;font-size:7.00px;color:#382c1c;transform:translate(-50%,-50%) scaleX(1.040)">-0.00072</div>
<div class="a" style="left:373.65px;top:161.34px;font-size:7.00px;color:#382c1d;transform:translate(-50%,-50%) scaleX(1.040)">-0.033</div>
<div class="a" style="left:395.31px;top:161.34px;font-size:7.00px;color:#382c1d;transform:translate(-50%,-50%) scaleX(1.040)">-0.025</div>
<div class="a" style="left:416.97px;top:161.34px;font-size:7.00px;color:#382c1d;transform:translate(-50%,-50%) scaleX(1.040)">-0.023</div>
<div class="a" style="left:438.63px;top:161.34px;font-size:7.00px;color:#382c1c;transform:translate(-50%,-50%) scaleX(1.040)">-0.012</div>
<div class="a" style="left:460.29px;top:161.34px;font-size:7.00px;color:#382c1c;transform:translate(-50%,-50%) scaleX(1.040)">-0.01</div>
<div class="a" style="left:113.73px;top:183.73px;font-size:7.00px;color:#322335;transform:translate(-50%,-50%) scaleX(1.040)">0.47</div>
<div class="a" style="left:135.39px;top:183.73px;font-size:7.00px;color:#b6b6a0;transform:translate(-50%,-50%) scaleX(1.040)">-0.47</div>
<div class="a" style="left:157.05px;top:183.73px;font-size:7.00px;color:#382b1c;transform:translate(-50%,-50%) scaleX(1.040)">0.012</div>
<div class="a" style="left:178.71px;top:183.73px;font-size:7.00px;color:#382b1c;transform:translate(-50%,-50%) scaleX(1.040)">0.011</div>
<div class="a" style="left:200.37px;top:183.73px;font-size:7.00px;color:#c7c190;transform:translate(-50%,-50%) scaleX(1.040)">-0.22</div>
<div class="a" style="left:222.03px;top:183.73px;font-size:7.00px;color:#37261d;transform:translate(-50%,-50%) scaleX(1.040)">0.086</div>
<div class="a" style="left:243.69px;top:183.73px;font-size:7.00px;color:#362d1d;transform:translate(-50%,-50%) scaleX(1.040)">-0.099</div>
<div class="a" style="left:265.35px;top:183.73px;font-size:7.00px;color:#383838;transform:translate(-50%,-50%) scaleX(1.040)">1</div>
<div class="a" style="left:287.01px;top:183.73px;font-size:7.00px;color:#cec18f;transform:translate(-50%,-50%) scaleX(1.040)">-0.16</div>
<div class="a" style="left:308.67px;top:183.73px;font-size:7.00px;color:#351e1c;transform:translate(-50%,-50%) scaleX(1.040)">0.21</div>
<div class="a" style="left:330.33px;top:183.73px;font-size:7.00px;color:#d2c08f;transform:translate(-50%,-50%) scaleX(1.040)">-0.13</div>
<div class="a" style="left:351.99px;top:183.73px;font-size:7.00px;color:#cdc18f;transform:translate(-50%,-50%) scaleX(1.040)">-0.17</div>
<div class="a" style="left:373.65px;top:183.73px;font-size:7.00px;color:#37271d;transform:translate(-50%,-50%) scaleX(1.040)">0.066</div>
<div class="a" style="left:395.31px;top:183.73px;font-size:7.00px;color:#37261d;transform:translate(-50%,-50%) scaleX(1.040)">0.084</div>
<div class="a" style="left:416.97px;top:183.73px;font-size:7.00px;color:#382b1c;transform:translate(-50%,-50%) scaleX(1.040)">0.017</div>
<div class="a" style="left:438.63px;top:183.73px;font-size:7.00px;color:#37251d;transform:translate(-50%,-50%) scaleX(1.040)">0.1</div>
<div class="a" style="left:460.29px;top:183.73px;font-size:7.00px;color:#37261d;transform:translate(-50%,-50%) scaleX(1.040)">0.083</div>
<div class="a" style="left:113.73px;top:206.12px;font-size:7.00px;color:#b6b6a3;transform:translate(-50%,-50%) scaleX(1.040)">-0.52</div>
<div class="a" style="left:135.39px;top:206.12px;font-size:7.00px;color:#252434;transform:translate(-50%,-50%) scaleX(1.040)">0.71</div>
<div class="a" style="left:157.05px;top:206.12px;font-size:7.00px;color:#372d1d;transform:translate(-50%,-50%) scaleX(1.040)">-0.087</div>
<div class="a" style="left:178.71px;top:206.12px;font-size:7.00px;color:#bebb95;transform:translate(-50%,-50%) scaleX(1.040)">-0.31</div>
<div class="a" style="left:200.37px;top:206.12px;font-size:7.00px;color:#341e21;transform:translate(-50%,-50%) scaleX(1.040)">0.27</div>
<div class="a" style="left:222.03px;top:206.12px;font-size:7.00px;color:#382c1d;transform:translate(-50%,-50%) scaleX(1.040)">-0.016</div>
<div class="a" style="left:243.69px;top:206.12px;font-size:7.00px;color:#37251d;transform:translate(-50%,-50%) scaleX(1.040)">0.1</div>
<div class="a" style="left:265.35px;top:206.12px;font-size:7.00px;color:#cec18f;transform:translate(-50%,-50%) scaleX(1.040)">-0.16</div>
<div class="a" style="left:287.01px;top:206.12px;font-size:7.00px;color:#383838;transform:translate(-50%,-50%) scaleX(1.040)">1</div>
<div class="a" style="left:308.67px;top:206.12px;font-size:7.00px;color:#382c1c;transform:translate(-50%,-50%) scaleX(1.040)">-0.0094</div>
<div class="a" style="left:330.33px;top:206.12px;font-size:7.00px;color:#2c2135;transform:translate(-50%,-50%) scaleX(1.040)">0.53</div>
<div class="a" style="left:351.99px;top:206.12px;font-size:7.00px;color:#361e1c;transform:translate(-50%,-50%) scaleX(1.040)">0.2</div>
<div class="a" style="left:373.65px;top:206.12px;font-size:7.00px;color:#382c1d;transform:translate(-50%,-50%) scaleX(1.040)">-0.018</div>
<div class="a" style="left:395.31px;top:206.12px;font-size:7.00px;color:#382b1c;transform:translate(-50%,-50%) scaleX(1.040)">0.013</div>
<div class="a" style="left:416.97px;top:206.12px;font-size:7.00px;color:#382b1c;transform:translate(-50%,-50%) scaleX(1.040)">0.0062</div>
<div class="a" style="left:438.63px;top:206.12px;font-size:7.00px;color:#382c1d;transform:translate(-50%,-50%) scaleX(1.040)">-0.034</div>
<div class="a" style="left:460.29px;top:206.12px;font-size:7.00px;color:#382a1c;transform:translate(-50%,-50%) scaleX(1.040)">0.024</div>
<div class="a" style="left:113.73px;top:228.51px;font-size:7.00px;color:#372d1d;transform:translate(-50%,-50%) scaleX(1.040)">-0.072</div>
<div class="a" style="left:135.39px;top:228.51px;font-size:7.00px;color:#cec18f;transform:translate(-50%,-50%) scaleX(1.040)">-0.16</div>
<div class="a" style="left:157.05px;top:228.51px;font-size:7.00px;color:#262636;transform:translate(-50%,-50%) scaleX(1.040)">0.8</div>
<div class="a" style="left:178.71px;top:228.51px;font-size:7.00px;color:#37251d;transform:translate(-50%,-50%) scaleX(1.040)">0.11</div>
<div class="a" style="left:200.37px;top:228.51px;font-size:7.00px;color:#d1c08f;transform:translate(-50%,-50%) scaleX(1.040)">-0.14</div>
<div class="a" style="left:222.03px;top:228.51px;font-size:7.00px;color:#332128;transform:translate(-50%,-50%) scaleX(1.040)">0.32</div>
<div class="a" style="left:243.69px;top:228.51px;font-size:7.00px;color:#372d1d;transform:translate(-50%,-50%) scaleX(1.040)">-0.07</div>
<div class="a" style="left:265.35px;top:228.51px;font-size:7.00px;color:#351e1c;transform:translate(-50%,-50%) scaleX(1.040)">0.21</div>
<div class="a" style="left:287.01px;top:228.51px;font-size:7.00px;color:#382c1c;transform:translate(-50%,-50%) scaleX(1.040)">-0.0094</div>
<div class="a" style="left:308.67px;top:228.51px;font-size:7.00px;color:#383838;transform:translate(-50%,-50%) scaleX(1.040)">1</div>
<div class="a" style="left:330.33px;top:228.51px;font-size:7.00px;color:#d2c08f;transform:translate(-50%,-50%) scaleX(1.040)">-0.13</div>
<div class="a" style="left:351.99px;top:228.51px;font-size:7.00px;color:#d5bf8f;transform:translate(-50%,-50%) scaleX(1.040)">-0.11</div>
<div class="a" style="left:373.65px;top:228.51px;font-size:7.00px;color:#34222e;transform:translate(-50%,-50%) scaleX(1.040)">0.34</div>
<div class="a" style="left:395.31px;top:228.51px;font-size:7.00px;color:#34212b;transform:translate(-50%,-50%) scaleX(1.040)">0.33</div>
<div class="a" style="left:416.97px;top:228.51px;font-size:7.00px;color:#341e21;transform:translate(-50%,-50%) scaleX(1.040)">0.27</div>
<div class="a" style="left:438.63px;top:228.51px;font-size:7.00px;color:#382b1c;transform:translate(-50%,-50%) scaleX(1.040)">0.016</div>
<div class="a" style="left:460.29px;top:228.51px;font-size:7.00px;color:#341f22;transform:translate(-50%,-50%) scaleX(1.040)">0.28</div>
<div class="a" style="left:113.73px;top:250.90px;font-size:7.00px;color:#c5c091;transform:translate(-50%,-50%) scaleX(1.040)">-0.24</div>
<div class="a" style="left:135.39px;top:250.90px;font-size:7.00px;color:#342335;transform:translate(-50%,-50%) scaleX(1.040)">0.45</div>
<div class="a" style="left:157.05px;top:250.90px;font-size:7.00px;color:#d1c08f;transform:translate(-50%,-50%) scaleX(1.040)">-0.14</div>
<div class="a" style="left:178.71px;top:250.90px;font-size:7.00px;color:#c8c18f;transform:translate(-50%,-50%) scaleX(1.040)">-0.21</div>
<div class="a" style="left:200.37px;top:250.90px;font-size:7.00px;color:#2a2a38;transform:translate(-50%,-50%) scaleX(1.040)">0.85</div>
<div class="a" style="left:222.03px;top:250.90px;font-size:7.00px;color:#372d1d;transform:translate(-50%,-50%) scaleX(1.040)">-0.068</div>
<div class="a" style="left:243.69px;top:250.90px;font-size:7.00px;color:#34212b;transform:translate(-50%,-50%) scaleX(1.040)">0.33</div>
<div class="a" style="left:265.35px;top:250.90px;font-size:7.00px;color:#d2c08f;transform:translate(-50%,-50%) scaleX(1.040)">-0.13</div>
<div class="a" style="left:287.01px;top:250.90px;font-size:7.00px;color:#2c2135;transform:translate(-50%,-50%) scaleX(1.040)">0.53</div>
<div class="a" style="left:308.67px;top:250.90px;font-size:7.00px;color:#d2c08f;transform:translate(-50%,-50%) scaleX(1.040)">-0.13</div>
<div class="a" style="left:330.33px;top:250.90px;font-size:7.00px;color:#383838;transform:translate(-50%,-50%) scaleX(1.040)">1</div>
<div class="a" style="left:351.99px;top:250.90px;font-size:7.00px;color:#37261d;transform:translate(-50%,-50%) scaleX(1.040)">0.081</div>
<div class="a" style="left:373.65px;top:250.90px;font-size:7.00px;color:#372d1d;transform:translate(-50%,-50%) scaleX(1.040)">-0.068</div>
<div class="a" style="left:395.31px;top:250.90px;font-size:7.00px;color:#382d1d;transform:translate(-50%,-50%) scaleX(1.040)">-0.056</div>
<div class="a" style="left:416.97px;top:250.90px;font-size:7.00px;color:#382c1d;transform:translate(-50%,-50%) scaleX(1.040)">-0.038</div>
<div class="a" style="left:438.63px;top:250.90px;font-size:7.00px;color:#382c1d;transform:translate(-50%,-50%) scaleX(1.040)">-0.023</div>
<div class="a" style="left:460.29px;top:250.90px;font-size:7.00px;color:#382c1d;transform:translate(-50%,-50%) scaleX(1.040)">-0.021</div>
<div class="a" style="left:113.73px;top:273.29px;font-size:7.00px;color:#c6c090;transform:translate(-50%,-50%) scaleX(1.040)">-0.23</div>
<div class="a" style="left:135.39px;top:273.29px;font-size:7.00px;color:#341f22;transform:translate(-50%,-50%) scaleX(1.040)">0.28</div>
<div class="a" style="left:157.05px;top:273.29px;font-size:7.00px;color:#d0c18f;transform:translate(-50%,-50%) scaleX(1.040)">-0.15</div>
<div class="a" style="left:178.71px;top:273.29px;font-size:7.00px;color:#cec18f;transform:translate(-50%,-50%) scaleX(1.040)">-0.16</div>
<div class="a" style="left:200.37px;top:273.29px;font-size:7.00px;color:#37271d;transform:translate(-50%,-50%) scaleX(1.040)">0.077</div>
<div class="a" style="left:222.03px;top:273.29px;font-size:7.00px;color:#382c1d;transform:translate(-50%,-50%) scaleX(1.040)">-0.045</div>
<div class="a" style="left:243.69px;top:273.29px;font-size:7.00px;color:#382c1c;transform:translate(-50%,-50%) scaleX(1.040)">-0.00072</div>
<div class="a" style="left:265.35px;top:273.29px;font-size:7.00px;color:#cdc18f;transform:translate(-50%,-50%) scaleX(1.040)">-0.17</div>
<div class="a" style="left:287.01px;top:273.29px;font-size:7.00px;color:#361e1c;transform:translate(-50%,-50%) scaleX(1.040)">0.2</div>
<div class="a" style="left:308.67px;top:273.29px;font-size:7.00px;color:#d5bf8f;transform:translate(-50%,-50%) scaleX(1.040)">-0.11</div>
<div class="a" style="left:330.33px;top:273.29px;font-size:7.00px;color:#37261d;transform:translate(-50%,-50%) scaleX(1.040)">0.081</div>
<div class="a" style="left:351.99px;top:273.29px;font-size:7.00px;color:#383838;transform:translate(-50%,-50%) scaleX(1.040)">1</div>
<div class="a" style="left:373.65px;top:273.29px;font-size:7.00px;color:#382c1d;transform:translate(-50%,-50%) scaleX(1.040)">-0.046</div>
<div class="a" style="left:395.31px;top:273.29px;font-size:7.00px;color:#382c1d;transform:translate(-50%,-50%) scaleX(1.040)">-0.03</div>
<div class="a" style="left:416.97px;top:273.29px;font-size:7.00px;color:#382c1d;transform:translate(-50%,-50%) scaleX(1.040)">-0.033</div>
<div class="a" style="left:438.63px;top:273.29px;font-size:7.00px;color:#382c1d;transform:translate(-50%,-50%) scaleX(1.040)">-0.016</div>
<div class="a" style="left:460.29px;top:273.29px;font-size:7.00px;color:#382c1d;transform:translate(-50%,-50%) scaleX(1.040)">-0.044</div>
<div class="a" style="left:113.73px;top:295.68px;font-size:7.00px;color:#382c1c;transform:translate(-50%,-50%) scaleX(1.040)">-0.011</div>
<div class="a" style="left:135.39px;top:295.68px;font-size:7.00px;color:#372d1d;transform:translate(-50%,-50%) scaleX(1.040)">-0.088</div>
<div class="a" style="left:157.05px;top:295.68px;font-size:7.00px;color:#35222e;transform:translate(-50%,-50%) scaleX(1.040)">0.35</div>
<div class="a" style="left:178.71px;top:295.68px;font-size:7.00px;color:#382c1c;transform:translate(-50%,-50%) scaleX(1.040)">-0.0043</div>
<div class="a" style="left:200.37px;top:295.68px;font-size:7.00px;color:#372d1d;transform:translate(-50%,-50%) scaleX(1.040)">-0.071</div>
<div class="a" style="left:222.03px;top:295.68px;font-size:7.00px;color:#33333c;transform:translate(-50%,-50%) scaleX(1.040)">0.97</div>
<div class="a" style="left:243.69px;top:295.68px;font-size:7.00px;color:#382c1d;transform:translate(-50%,-50%) scaleX(1.040)">-0.033</div>
<div class="a" style="left:265.35px;top:295.68px;font-size:7.00px;color:#37271d;transform:translate(-50%,-50%) scaleX(1.040)">0.066</div>
<div class="a" style="left:287.01px;top:295.68px;font-size:7.00px;color:#382c1d;transform:translate(-50%,-50%) scaleX(1.040)">-0.018</div>
<div class="a" style="left:308.67px;top:295.68px;font-size:7.00px;color:#34222e;transform:translate(-50%,-50%) scaleX(1.040)">0.34</div>
<div class="a" style="left:330.33px;top:295.68px;font-size:7.00px;color:#372d1d;transform:translate(-50%,-50%) scaleX(1.040)">-0.068</div>
<div class="a" style="left:351.99px;top:295.68px;font-size:7.00px;color:#382c1d;transform:translate(-50%,-50%) scaleX(1.040)">-0.046</div>
<div class="a" style="left:373.65px;top:295.68px;font-size:7.00px;color:#383838;transform:translate(-50%,-50%) scaleX(1.040)">1</div>
<div class="a" style="left:395.31px;top:295.68px;font-size:7.00px;color:#2a2035;transform:translate(-50%,-50%) scaleX(1.040)">0.55</div>
<div class="a" style="left:416.97px;top:295.68px;font-size:7.00px;color:#2d2d3a;transform:translate(-50%,-50%) scaleX(1.040)">0.9</div>
<div class="a" style="left:438.63px;top:295.68px;font-size:7.00px;color:#382a1c;transform:translate(-50%,-50%) scaleX(1.040)">0.028</div>
<div class="a" style="left:460.29px;top:295.68px;font-size:7.00px;color:#292034;transform:translate(-50%,-50%) scaleX(1.040)">0.56</div>
<div class="a" style="left:113.73px;top:318.06px;font-size:7.00px;color:#382b1c;transform:translate(-50%,-50%) scaleX(1.040)">0.0075</div>
<div class="a" style="left:135.39px;top:318.06px;font-size:7.00px;color:#382d1d;transform:translate(-50%,-50%) scaleX(1.040)">-0.051</div>
<div class="a" style="left:157.05px;top:318.06px;font-size:7.00px;color:#351e1c;transform:translate(-50%,-50%) scaleX(1.040)">0.21</div>
<div class="a" style="left:178.71px;top:318.06px;font-size:7.00px;color:#382c1d;transform:translate(-50%,-50%) scaleX(1.040)">-0.026</div>
<div class="a" style="left:200.37px;top:318.06px;font-size:7.00px;color:#382d1d;transform:translate(-50%,-50%) scaleX(1.040)">-0.059</div>
<div class="a" style="left:222.03px;top:318.06px;font-size:7.00px;color:#2b2035;transform:translate(-50%,-50%) scaleX(1.040)">0.54</div>
<div class="a" style="left:243.69px;top:318.06px;font-size:7.00px;color:#382c1d;transform:translate(-50%,-50%) scaleX(1.040)">-0.025</div>
<div class="a" style="left:265.35px;top:318.06px;font-size:7.00px;color:#37261d;transform:translate(-50%,-50%) scaleX(1.040)">0.084</div>
<div class="a" style="left:287.01px;top:318.06px;font-size:7.00px;color:#382b1c;transform:translate(-50%,-50%) scaleX(1.040)">0.013</div>
<div class="a" style="left:308.67px;top:318.06px;font-size:7.00px;color:#34212b;transform:translate(-50%,-50%) scaleX(1.040)">0.33</div>
<div class="a" style="left:330.33px;top:318.06px;font-size:7.00px;color:#382d1d;transform:translate(-50%,-50%) scaleX(1.040)">-0.056</div>
<div class="a" style="left:351.99px;top:318.06px;font-size:7.00px;color:#382c1d;transform:translate(-50%,-50%) scaleX(1.040)">-0.03</div>
<div class="a" style="left:373.65px;top:318.06px;font-size:7.00px;color:#2a2035;transform:translate(-50%,-50%) scaleX(1.040)">0.55</div>
<div class="a" style="left:395.31px;top:318.06px;font-size:7.00px;color:#383838;transform:translate(-50%,-50%) scaleX(1.040)">1</div>
<div class="a" style="left:416.97px;top:318.06px;font-size:7.00px;color:#35222e;transform:translate(-50%,-50%) scaleX(1.040)">0.35</div>
<div class="a" style="left:438.63px;top:318.06px;font-size:7.00px;color:#37261d;transform:translate(-50%,-50%) scaleX(1.040)">0.095</div>
<div class="a" style="left:460.29px;top:318.06px;font-size:7.00px;color:#351e1c;transform:translate(-50%,-50%) scaleX(1.040)">0.21</div>
<div class="a" style="left:113.73px;top:340.46px;font-size:7.00px;color:#382c1d;transform:translate(-50%,-50%) scaleX(1.040)">-0.033</div>
<div class="a" style="left:135.39px;top:340.46px;font-size:7.00px;color:#382d1d;transform:translate(-50%,-50%) scaleX(1.040)">-0.05</div>
<div class="a" style="left:157.05px;top:340.46px;font-size:7.00px;color:#332025;transform:translate(-50%,-50%) scaleX(1.040)">0.3</div>
<div class="a" style="left:178.71px;top:340.46px;font-size:7.00px;color:#382c1d;transform:translate(-50%,-50%) scaleX(1.040)">-0.022</div>
<div class="a" style="left:200.37px;top:340.46px;font-size:7.00px;color:#382c1d;transform:translate(-50%,-50%) scaleX(1.040)">-0.037</div>
<div class="a" style="left:222.03px;top:340.46px;font-size:7.00px;color:#2b2b39;transform:translate(-50%,-50%) scaleX(1.040)">0.87</div>
<div class="a" style="left:243.69px;top:340.46px;font-size:7.00px;color:#382c1d;transform:translate(-50%,-50%) scaleX(1.040)">-0.023</div>
<div class="a" style="left:265.35px;top:340.46px;font-size:7.00px;color:#382b1c;transform:translate(-50%,-50%) scaleX(1.040)">0.017</div>
<div class="a" style="left:287.01px;top:340.46px;font-size:7.00px;color:#382b1c;transform:translate(-50%,-50%) scaleX(1.040)">0.0062</div>
<div class="a" style="left:308.67px;top:340.46px;font-size:7.00px;color:#341e21;transform:translate(-50%,-50%) scaleX(1.040)">0.27</div>
<div class="a" style="left:330.33px;top:340.46px;font-size:7.00px;color:#382c1d;transform:translate(-50%,-50%) scaleX(1.040)">-0.038</div>
<div class="a" style="left:351.99px;top:340.46px;font-size:7.00px;color:#382c1d;transform:translate(-50%,-50%) scaleX(1.040)">-0.033</div>
<div class="a" style="left:373.65px;top:340.46px;font-size:7.00px;color:#2d2d3a;transform:translate(-50%,-50%) scaleX(1.040)">0.9</div>
<div class="a" style="left:395.31px;top:340.46px;font-size:7.00px;color:#35222e;transform:translate(-50%,-50%) scaleX(1.040)">0.35</div>
<div class="a" style="left:416.97px;top:340.46px;font-size:7.00px;color:#383838;transform:translate(-50%,-50%) scaleX(1.040)">1</div>
<div class="a" style="left:438.63px;top:340.46px;font-size:7.00px;color:#382b1c;transform:translate(-50%,-50%) scaleX(1.040)">0.0052</div>
<div class="a" style="left:460.29px;top:340.46px;font-size:7.00px;color:#282034;transform:translate(-50%,-50%) scaleX(1.040)">0.58</div>
<div class="a" style="left:113.73px;top:362.85px;font-size:7.00px;color:#38291c;transform:translate(-50%,-50%) scaleX(1.040)">0.036</div>
<div class="a" style="left:135.39px;top:362.85px;font-size:7.00px;color:#382c1d;transform:translate(-50%,-50%) scaleX(1.040)">-0.046</div>
<div class="a" style="left:157.05px;top:362.85px;font-size:7.00px;color:#382b1c;transform:translate(-50%,-50%) scaleX(1.040)">0.0033</div>
<div class="a" style="left:178.71px;top:362.85px;font-size:7.00px;color:#382b1c;transform:translate(-50%,-50%) scaleX(1.040)">0.0072</div>
<div class="a" style="left:200.37px;top:362.85px;font-size:7.00px;color:#382c1d;transform:translate(-50%,-50%) scaleX(1.040)">-0.022</div>
<div class="a" style="left:222.03px;top:362.85px;font-size:7.00px;color:#382a1c;transform:translate(-50%,-50%) scaleX(1.040)">0.018</div>
<div class="a" style="left:243.69px;top:362.85px;font-size:7.00px;color:#382c1c;transform:translate(-50%,-50%) scaleX(1.040)">-0.012</div>
<div class="a" style="left:265.35px;top:362.85px;font-size:7.00px;color:#37251d;transform:translate(-50%,-50%) scaleX(1.040)">0.1</div>
<div class="a" style="left:287.01px;top:362.85px;font-size:7.00px;color:#382c1d;transform:translate(-50%,-50%) scaleX(1.040)">-0.034</div>
<div class="a" style="left:308.67px;top:362.85px;font-size:7.00px;color:#382b1c;transform:translate(-50%,-50%) scaleX(1.040)">0.016</div>
<div class="a" style="left:330.33px;top:362.85px;font-size:7.00px;color:#382c1d;transform:translate(-50%,-50%) scaleX(1.040)">-0.023</div>
<div class="a" style="left:351.99px;top:362.85px;font-size:7.00px;color:#382c1d;transform:translate(-50%,-50%) scaleX(1.040)">-0.016</div>
<div class="a" style="left:373.65px;top:362.85px;font-size:7.00px;color:#382a1c;transform:translate(-50%,-50%) scaleX(1.040)">0.028</div>
<div class="a" style="left:395.31px;top:362.85px;font-size:7.00px;color:#37261d;transform:translate(-50%,-50%) scaleX(1.040)">0.095</div>
<div class="a" style="left:416.97px;top:362.85px;font-size:7.00px;color:#382b1c;transform:translate(-50%,-50%) scaleX(1.040)">0.0052</div>
<div class="a" style="left:438.63px;top:362.85px;font-size:7.00px;color:#383838;transform:translate(-50%,-50%) scaleX(1.040)">1</div>
<div class="a" style="left:460.29px;top:362.85px;font-size:7.00px;color:#382c1c;transform:translate(-50%,-50%) scaleX(1.040)">-0.0033</div>
<div class="a" style="left:113.73px;top:385.24px;font-size:7.00px;color:#382c1c;transform:translate(-50%,-50%) scaleX(1.040)">-0.0039</div>
<div class="a" style="left:135.39px;top:385.24px;font-size:7.00px;color:#382d1d;transform:translate(-50%,-50%) scaleX(1.040)">-0.058</div>
<div class="a" style="left:157.05px;top:385.24px;font-size:7.00px;color:#351e1e;transform:translate(-50%,-50%) scaleX(1.040)">0.24</div>
<div class="a" style="left:178.71px;top:385.24px;font-size:7.00px;color:#382b1c;transform:translate(-50%,-50%) scaleX(1.040)">0.0033</div>
<div class="a" style="left:200.37px;top:385.24px;font-size:7.00px;color:#382c1d;transform:translate(-50%,-50%) scaleX(1.040)">-0.045</div>
<div class="a" style="left:222.03px;top:385.24px;font-size:7.00px;color:#282034;transform:translate(-50%,-50%) scaleX(1.040)">0.58</div>
<div class="a" style="left:243.69px;top:385.24px;font-size:7.00px;color:#382c1c;transform:translate(-50%,-50%) scaleX(1.040)">-0.01</div>
<div class="a" style="left:265.35px;top:385.24px;font-size:7.00px;color:#37261d;transform:translate(-50%,-50%) scaleX(1.040)">0.083</div>
<div class="a" style="left:287.01px;top:385.24px;font-size:7.00px;color:#382a1c;transform:translate(-50%,-50%) scaleX(1.040)">0.024</div>
<div class="a" style="left:308.67px;top:385.24px;font-size:7.00px;color:#341f22;transform:translate(-50%,-50%) scaleX(1.040)">0.28</div>
<div class="a" style="left:330.33px;top:385.24px;font-size:7.00px;color:#382c1d;transform:translate(-50%,-50%) scaleX(1.040)">-0.021</div>
<div class="a" style="left:351.99px;top:385.24px;font-size:7.00px;color:#382c1d;transform:translate(-50%,-50%) scaleX(1.040)">-0.044</div>
<div class="a" style="left:373.65px;top:385.24px;font-size:7.00px;color:#292034;transform:translate(-50%,-50%) scaleX(1.040)">0.56</div>
<div class="a" style="left:395.31px;top:385.24px;font-size:7.00px;color:#351e1c;transform:translate(-50%,-50%) scaleX(1.040)">0.21</div>
<div class="a" style="left:416.97px;top:385.24px;font-size:7.00px;color:#282034;transform:translate(-50%,-50%) scaleX(1.040)">0.58</div>
<div class="a" style="left:438.63px;top:385.24px;font-size:7.00px;color:#382c1c;transform:translate(-50%,-50%) scaleX(1.040)">-0.0031</div>
<div class="a" style="left:460.29px;top:385.24px;font-size:7.00px;color:#383838;transform:translate(-50%,-50%) scaleX(1.040)">1</div>
<div class="lbl" style="right:452.70px;top:27.00px;font-size:7.7px;transform:translateY(-50%)">statuses_count</div>
<div class="tk" style="left:99.9px;top:26.60px;width:2.8px;height:0.8px"></div>
<div class="lbl" style="right:452.70px;top:49.39px;font-size:7.7px;transform:translateY(-50%)">followers_count</div>
<div class="tk" style="left:99.9px;top:48.99px;width:2.8px;height:0.8px"></div>
<div class="lbl" style="right:452.70px;top:71.78px;font-size:7.7px;transform:translateY(-50%)">following_count</div>
<div class="tk" style="left:99.9px;top:71.38px;width:2.8px;height:0.8px"></div>
<div class="lbl" style="right:452.70px;top:94.17px;font-size:7.7px;transform:translateY(-50%)">favourites_count</div>
<div class="tk" style="left:99.9px;top:93.77px;width:2.8px;height:0.8px"></div>
<div class="lbl" style="right:452.70px;top:116.55px;font-size:7.7px;transform:translateY(-50%)">listed_count</div>
<div class="tk" style="left:99.9px;top:116.15px;width:2.8px;height:0.8px"></div>
<div class="lbl" style="right:452.70px;top:138.95px;font-size:7.7px;transform:translateY(-50%)">default_profile</div>
<div class="tk" style="left:99.9px;top:138.55px;width:2.8px;height:0.8px"></div>
<div class="lbl" style="right:452.70px;top:161.34px;font-size:7.7px;transform:translateY(-50%)">verified</div>
<div class="tk" style="left:99.9px;top:160.94px;width:2.8px;height:0.8px"></div>
<div class="lbl" style="right:452.70px;top:183.73px;font-size:7.7px;transform:translateY(-50%)">tweet_freq</div>
<div class="tk" style="left:99.9px;top:183.33px;width:2.8px;height:0.8px"></div>
<div class="lbl" style="right:452.70px;top:206.12px;font-size:7.7px;transform:translateY(-50%)">follower_growth_rate</div>
<div class="tk" style="left:99.9px;top:205.72px;width:2.8px;height:0.8px"></div>
<div class="lbl" style="right:452.70px;top:228.51px;font-size:7.7px;transform:translateY(-50%)">following_growth_rate</div>
<div class="tk" style="left:99.9px;top:228.11px;width:2.8px;height:0.8px"></div>
<div class="lbl" style="right:452.70px;top:250.90px;font-size:7.7px;transform:translateY(-50%)">listed_growth_rate</div>
<div class="tk" style="left:99.9px;top:250.50px;width:2.8px;height:0.8px"></div>
<div class="lbl" style="right:452.70px;top:273.29px;font-size:7.7px;transform:translateY(-50%)">followers_following_ratio</div>
<div class="tk" style="left:99.9px;top:272.89px;width:2.8px;height:0.8px"></div>
<div class="lbl" style="right:452.70px;top:295.68px;font-size:7.7px;transform:translateY(-50%)">screen_name_length</div>
<div class="tk" style="left:99.9px;top:295.28px;width:2.8px;height:0.8px"></div>
<div class="lbl" style="right:452.70px;top:318.06px;font-size:7.7px;transform:translateY(-50%)">digits_in_screen_name</div>
<div class="tk" style="left:99.9px;top:317.67px;width:2.8px;height:0.8px"></div>
<div class="lbl" style="right:452.70px;top:340.46px;font-size:7.7px;transform:translateY(-50%)">name_length</div>
<div class="tk" style="left:99.9px;top:340.06px;width:2.8px;height:0.8px"></div>
<div class="lbl" style="right:452.70px;top:362.85px;font-size:7.7px;transform:translateY(-50%)">digits_in_name</div>
<div class="tk" style="left:99.9px;top:362.45px;width:2.8px;height:0.8px"></div>
<div class="lbl" style="right:452.70px;top:385.24px;font-size:7.7px;transform:translateY(-50%)">description_length</div>
<div class="tk" style="left:99.9px;top:384.84px;width:2.8px;height:0.8px"></div>
<div class="lbl" style="left:112.83px;top:402.0px;font-size:7.68px;transform-origin:0 0;transform:rotate(-90deg) translate(-100%,-50%)">statuses_count</div>
<div class="tk" style="left:113.33px;top:396.4px;width:0.8px;height:2.8px"></div>
<div class="lbl" style="left:134.49px;top:402.0px;font-size:7.68px;transform-origin:0 0;transform:rotate(-90deg) translate(-100%,-50%)">followers_count</div>
<div class="tk" style="left:134.99px;top:396.4px;width:0.8px;height:2.8px"></div>
<div class="lbl" style="left:156.15px;top:402.0px;font-size:7.68px;transform-origin:0 0;transform:rotate(-90deg) translate(-100%,-50%)">following_count</div>
<div class="tk" style="left:156.65px;top:396.4px;width:0.8px;height:2.8px"></div>
<div class="lbl" style="left:177.81px;top:402.0px;font-size:7.68px;transform-origin:0 0;transform:rotate(-90deg) translate(-100%,-50%)">favourites_count</div>
<div class="tk" style="left:178.31px;top:396.4px;width:0.8px;height:2.8px"></div>
<div class="lbl" style="left:199.47px;top:402.0px;font-size:7.68px;transform-origin:0 0;transform:rotate(-90deg) translate(-100%,-50%)">listed_count</div>
<div class="tk" style="left:199.97px;top:396.4px;width:0.8px;height:2.8px"></div>
<div class="lbl" style="left:221.13px;top:402.0px;font-size:7.68px;transform-origin:0 0;transform:rotate(-90deg) translate(-100%,-50%)">default_profile</div>
<div class="tk" style="left:221.63px;top:396.4px;width:0.8px;height:2.8px"></div>
<div class="lbl" style="left:242.79px;top:402.0px;font-size:7.68px;transform-origin:0 0;transform:rotate(-90deg) translate(-100%,-50%)">verified</div>
<div class="tk" style="left:243.29px;top:396.4px;width:0.8px;height:2.8px"></div>
<div class="lbl" style="left:264.45px;top:402.0px;font-size:7.68px;transform-origin:0 0;transform:rotate(-90deg) translate(-100%,-50%)">tweet_freq</div>
<div class="tk" style="left:264.95px;top:396.4px;width:0.8px;height:2.8px"></div>
<div class="lbl" style="left:286.11px;top:402.0px;font-size:7.68px;transform-origin:0 0;transform:rotate(-90deg) translate(-100%,-50%)">follower_growth_rate</div>
<div class="tk" style="left:286.61px;top:396.4px;width:0.8px;height:2.8px"></div>
<div class="lbl" style="left:307.77px;top:402.0px;font-size:7.68px;transform-origin:0 0;transform:rotate(-90deg) translate(-100%,-50%)">following_growth_rate</div>
<div class="tk" style="left:308.27px;top:396.4px;width:0.8px;height:2.8px"></div>
<div class="lbl" style="left:329.43px;top:402.0px;font-size:7.68px;transform-origin:0 0;transform:rotate(-90deg) translate(-100%,-50%)">listed_growth_rate</div>
<div class="tk" style="left:329.93px;top:396.4px;width:0.8px;height:2.8px"></div>
<div class="lbl" style="left:351.09px;top:402.0px;font-size:7.68px;transform-origin:0 0;transform:rotate(-90deg) translate(-100%,-50%)">followers_following_ratio</div>
<div class="tk" style="left:351.59px;top:396.4px;width:0.8px;height:2.8px"></div>
<div class="lbl" style="left:372.75px;top:402.0px;font-size:7.68px;transform-origin:0 0;transform:rotate(-90deg) translate(-100%,-50%)">screen_name_length</div>
<div class="tk" style="left:373.25px;top:396.4px;width:0.8px;height:2.8px"></div>
<div class="lbl" style="left:394.41px;top:402.0px;font-size:7.68px;transform-origin:0 0;transform:rotate(-90deg) translate(-100%,-50%)">digits_in_screen_name</div>
<div class="tk" style="left:394.91px;top:396.4px;width:0.8px;height:2.8px"></div>
<div class="lbl" style="left:416.07px;top:402.0px;font-size:7.68px;transform-origin:0 0;transform:rotate(-90deg) translate(-100%,-50%)">name_length</div>
<div class="tk" style="left:416.57px;top:396.4px;width:0.8px;height:2.8px"></div>
<div class="lbl" style="left:437.73px;top:402.0px;font-size:7.68px;transform-origin:0 0;transform:rotate(-90deg) translate(-100%,-50%)">digits_in_name</div>
<div class="tk" style="left:438.23px;top:396.4px;width:0.8px;height:2.8px"></div>
<div class="lbl" style="left:459.39px;top:402.0px;font-size:7.68px;transform-origin:0 0;transform:rotate(-90deg) translate(-100%,-50%)">description_length</div>
<div class="tk" style="left:459.89px;top:396.4px;width:0.8px;height:2.8px"></div>
<div class="c" style="left:25.70px;top:529.30px;width:39.97px;height:38.69px;background:#c8c8c8"></div>
<div class="c" style="left:65.07px;top:529.30px;width:39.97px;height:38.69px;background:#bc9444"></div>
<div class="c" style="left:104.44px;top:529.30px;width:39.97px;height:38.69px;background:#6c52b0"></div>
<div class="c" style="left:143.81px;top:529.30px;width:39.97px;height:38.69px;background:#c8893e"></div>
<div class="c" style="left:183.18px;top:529.30px;width:39.97px;height:38.69px;background:#252525"></div>
<div class="c" style="left:222.55px;top:529.30px;width:39.97px;height:38.69px;background:#56562c"></div>
<div class="c" style="left:261.92px;top:529.30px;width:39.97px;height:38.69px;background:#3a3a1e"></div>
<div class="c" style="left:301.29px;top:529.30px;width:39.97px;height:38.69px;background:#b05170"></div>
<div class="c" style="left:340.66px;top:529.30px;width:39.97px;height:38.69px;background:#c78c3f"></div>
<div class="c" style="left:380.03px;top:529.30px;width:39.97px;height:38.69px;background:#c69040"></div>
<div class="c" style="left:419.40px;top:529.30px;width:39.37px;height:38.69px;background:#787636"></div>
<div class="c" style="left:25.70px;top:567.39px;width:39.97px;height:38.69px;background:#bc9444"></div>
<div class="c" style="left:65.07px;top:567.39px;width:39.97px;height:38.69px;background:#c8c8c8"></div>
<div class="c" style="left:104.44px;top:567.39px;width:39.97px;height:38.69px;background:#a3953f"></div>
<div class="c" style="left:143.81px;top:567.39px;width:39.97px;height:38.69px;background:#c36c40"></div>
<div class="c" style="left:183.18px;top:567.39px;width:39.97px;height:38.69px;background:#b49743"></div>
<div class="c" style="left:222.55px;top:567.39px;width:39.97px;height:38.69px;background:#868038"></div>
<div class="c" style="left:261.92px;top:567.39px;width:39.97px;height:38.69px;background:#c8873e"></div>
<div class="c" style="left:301.29px;top:567.39px;width:39.97px;height:38.69px;background:#c6783e"></div>
<div class="c" style="left:340.66px;top:567.39px;width:39.97px;height:38.69px;background:#aa9741"></div>
<div class="c" style="left:380.03px;top:567.39px;width:39.97px;height:38.69px;background:#bb443e"></div>
<div class="c" style="left:419.40px;top:567.39px;width:39.37px;height:38.69px;background:#c67a3e"></div>
<div class="c" style="left:25.70px;top:605.48px;width:39.97px;height:38.69px;background:#6c52b0"></div>
<div class="c" style="left:65.07px;top:605.48px;width:39.97px;height:38.69px;background:#a3953f"></div>
<div class="c" style="left:104.44px;top:605.48px;width:39.97px;height:38.69px;background:#c8c8c8"></div>
<div class="c" style="left:143.81px;top:605.48px;width:39.97px;height:38.69px;background:#c67b3e"></div>
<div class="c" style="left:183.18px;top:605.48px;width:39.97px;height:38.69px;background:#5b5b2e"></div>
<div class="c" style="left:222.55px;top:605.48px;width:39.97px;height:38.69px;background:#626230"></div>
<div class="c" style="left:261.92px;top:605.48px;width:39.97px;height:38.69px;background:#56562c"></div>
<div class="c" style="left:301.29px;top:605.48px;width:39.97px;height:38.69px;background:#b24e67"></div>
<div class="c" style="left:340.66px;top:605.48px;width:39.97px;height:38.69px;background:#c78c3f"></div>
<div class="c" style="left:380.03px;top:605.48px;width:39.97px;height:38.69px;background:#c88a3e"></div>
<div class="c" style="left:419.40px;top:605.48px;width:39.37px;height:38.69px;background:#717134"></div>
<div class="c" style="left:25.70px;top:643.57px;width:39.97px;height:38.69px;background:#c8893e"></div>
<div class="c" style="left:65.07px;top:643.57px;width:39.97px;height:38.69px;background:#c36c40"></div>
<div class="c" style="left:104.44px;top:643.57px;width:39.97px;height:38.69px;background:#c67b3e"></div>
<div class="c" style="left:143.81px;top:643.57px;width:39.97px;height:38.69px;background:#c8c8c8"></div>
<div class="c" style="left:183.18px;top:643.57px;width:39.97px;height:38.69px;background:#7b7836"></div>
<div class="c" style="left:222.55px;top:643.57px;width:39.97px;height:38.69px;background:#978e3e"></div>
<div class="c" style="left:261.92px;top:643.57px;width:39.97px;height:38.69px;background:#9d913f"></div>
<div class="c" style="left:301.29px;top:643.57px;width:39.97px;height:38.69px;background:#c4733f"></div>
<div class="c" style="left:340.66px;top:643.57px;width:39.97px;height:38.69px;background:#c16640"></div>
<div class="c" style="left:380.03px;top:643.57px;width:39.97px;height:38.69px;background:#c7813e"></div>
<div class="c" style="left:419.40px;top:643.57px;width:39.37px;height:38.69px;background:#af9843"></div>
<div class="c" style="left:25.70px;top:681.66px;width:39.97px;height:38.69px;background:#252525"></div>
<div class="c" style="left:65.07px;top:681.66px;width:39.97px;height:38.69px;background:#b49743"></div>
<div class="c" style="left:104.44px;top:681.66px;width:39.97px;height:38.69px;background:#5b5b2e"></div>
<div class="c" style="left:143.81px;top:681.66px;width:39.97px;height:38.69px;background:#7b7836"></div>
<div class="c" style="left:183.18px;top:681.66px;width:39.97px;height:38.69px;background:#c8c8c8"></div>
<div class="c" style="left:222.55px;top:681.66px;width:39.97px;height:38.69px;background:#bc60a8"></div>
<div class="c" style="left:261.92px;top:681.66px;width:39.97px;height:38.69px;background:#b34c5f"></div>
<div class="c" style="left:301.29px;top:681.66px;width:39.97px;height:38.69px;background:#666632"></div>
<div class="c" style="left:340.66px;top:681.66px;width:39.97px;height:38.69px;background:#666632"></div>
<div class="c" style="left:380.03px;top:681.66px;width:39.97px;height:38.69px;background:#c06240"></div>
<div class="c" style="left:419.40px;top:681.66px;width:39.37px;height:38.69px;background:#c36f3f"></div>
<div class="c" style="left:25.70px;top:719.75px;width:39.97px;height:38.69px;background:#56562c"></div>
<div class="c" style="left:65.07px;top:719.75px;width:39.97px;height:38.69px;background:#868038"></div>
<div class="c" style="left:104.44px;top:719.75px;width:39.97px;height:38.69px;background:#626230"></div>
<div class="c" style="left:143.81px;top:719.75px;width:39.97px;height:38.69px;background:#978e3e"></div>
<div class="c" style="left:183.18px;top:719.75px;width:39.97px;height:38.69px;background:#bc60a8"></div>
<div class="c" style="left:222.55px;top:719.75px;width:39.97px;height:38.69px;background:#c8c8c8"></div>
<div class="c" style="left:261.92px;top:719.75px;width:39.97px;height:38.69px;background:#b75996"></div>
<div class="c" style="left:301.29px;top:719.75px;width:39.97px;height:38.69px;background:#6f6f34"></div>
<div class="c" style="left:340.66px;top:719.75px;width:39.97px;height:38.69px;background:#948c3e"></div>
<div class="c" style="left:380.03px;top:719.75px;width:39.97px;height:38.69px;background:#a5963f"></div>
<div class="c" style="left:419.40px;top:719.75px;width:39.37px;height:38.69px;background:#b35682"></div>
<div class="c" style="left:25.70px;top:757.84px;width:39.97px;height:38.69px;background:#3a3a1e"></div>
<div class="c" style="left:65.07px;top:757.84px;width:39.97px;height:38.69px;background:#c8873e"></div>
<div class="c" style="left:104.44px;top:757.84px;width:39.97px;height:38.69px;background:#56562c"></div>
<div class="c" style="left:143.81px;top:757.84px;width:39.97px;height:38.69px;background:#9d913f"></div>
<div class="c" style="left:183.18px;top:757.84px;width:39.97px;height:38.69px;background:#b34c5f"></div>
<div class="c" style="left:222.55px;top:757.84px;width:39.97px;height:38.69px;background:#b75996"></div>
<div class="c" style="left:261.92px;top:757.84px;width:39.97px;height:38.69px;background:#c8c8c8"></div>
<div class="c" style="left:301.29px;top:757.84px;width:39.97px;height:38.69px;background:#5e5e2f"></div>
<div class="c" style="left:340.66px;top:757.84px;width:39.97px;height:38.69px;background:#686832"></div>
<div class="c" style="left:380.03px;top:757.84px;width:39.97px;height:38.69px;background:#8d863b"></div>
<div class="c" style="left:419.40px;top:757.84px;width:39.37px;height:38.69px;background:#6b53b0"></div>
<div class="c" style="left:25.70px;top:795.93px;width:39.97px;height:38.69px;background:#b05170"></div>
<div class="c" style="left:65.07px;top:795.93px;width:39.97px;height:38.69px;background:#c6783e"></div>
<div class="c" style="left:104.44px;top:795.93px;width:39.97px;height:38.69px;background:#b24e67"></div>
<div class="c" style="left:143.81px;top:795.93px;width:39.97px;height:38.69px;background:#c4733f"></div>
<div class="c" style="left:183.18px;top:795.93px;width:39.97px;height:38.69px;background:#666632"></div>
<div class="c" style="left:222.55px;top:795.93px;width:39.97px;height:38.69px;background:#6f6f34"></div>
<div class="c" style="left:261.92px;top:795.93px;width:39.97px;height:38.69px;background:#5e5e2f"></div>
<div class="c" style="left:301.29px;top:795.93px;width:39.97px;height:38.69px;background:#c8c8c8"></div>
<div class="c" style="left:340.66px;top:795.93px;width:39.97px;height:38.69px;background:#bd4f3d"></div>
<div class="c" style="left:380.03px;top:795.93px;width:39.97px;height:38.69px;background:#bd4b3c"></div>
<div class="c" style="left:419.40px;top:795.93px;width:39.37px;height:38.69px;background:#898339"></div>
<div class="c" style="left:25.70px;top:834.02px;width:39.97px;height:38.69px;background:#c78c3f"></div>
<div class="c" style="left:65.07px;top:834.02px;width:39.97px;height:38.69px;background:#aa9741"></div>
<div class="c" style="left:104.44px;top:834.02px;width:39.97px;height:38.69px;background:#c78c3f"></div>
<div class="c" style="left:143.81px;top:834.02px;width:39.97px;height:38.69px;background:#c16640"></div>
<div class="c" style="left:183.18px;top:834.02px;width:39.97px;height:38.69px;background:#666632"></div>
<div class="c" style="left:222.55px;top:834.02px;width:39.97px;height:38.69px;background:#948c3e"></div>
<div class="c" style="left:261.92px;top:834.02px;width:39.97px;height:38.69px;background:#686832"></div>
<div class="c" style="left:301.29px;top:834.02px;width:39.97px;height:38.69px;background:#bd4f3d"></div>
<div class="c" style="left:340.66px;top:834.02px;width:39.97px;height:38.69px;background:#c8c8c8"></div>
<div class="c" style="left:380.03px;top:834.02px;width:39.97px;height:38.69px;background:#c09242"></div>
<div class="c" style="left:419.40px;top:834.02px;width:39.37px;height:38.69px;background:#717134"></div>
<div class="c" style="left:25.70px;top:872.11px;width:39.97px;height:38.69px;background:#c69040"></div>
<div class="c" style="left:65.07px;top:872.11px;width:39.97px;height:38.69px;background:#bb443e"></div>
<div class="c" style="left:104.44px;top:872.11px;width:39.97px;height:38.69px;background:#c88a3e"></div>
<div class="c" style="left:143.81px;top:872.11px;width:39.97px;height:38.69px;background:#c7813e"></div>
<div class="c" style="left:183.18px;top:872.11px;width:39.97px;height:38.69px;background:#c06240"></div>
<div class="c" style="left:222.55px;top:872.11px;width:39.97px;height:38.69px;background:#a5963f"></div>
<div class="c" style="left:261.92px;top:872.11px;width:39.97px;height:38.69px;background:#8d863b"></div>
<div class="c" style="left:301.29px;top:872.11px;width:39.97px;height:38.69px;background:#bd4b3c"></div>
<div class="c" style="left:340.66px;top:872.11px;width:39.97px;height:38.69px;background:#c09242"></div>
<div class="c" style="left:380.03px;top:872.11px;width:39.97px;height:38.69px;background:#c8c8c8"></div>
<div class="c" style="left:419.40px;top:872.11px;width:39.37px;height:38.69px;background:#b79644"></div>
<div class="c" style="left:25.70px;top:910.20px;width:39.97px;height:38.09px;background:#787636"></div>
<div class="c" style="left:65.07px;top:910.20px;width:39.97px;height:38.09px;background:#c67a3e"></div>
<div class="c" style="left:104.44px;top:910.20px;width:39.97px;height:38.09px;background:#717134"></div>
<div class="c" style="left:143.81px;top:910.20px;width:39.97px;height:38.09px;background:#af9843"></div>
<div class="c" style="left:183.18px;top:910.20px;width:39.97px;height:38.09px;background:#c36f3f"></div>
<div class="c" style="left:222.55px;top:910.20px;width:39.97px;height:38.09px;background:#b35682"></div>
<div class="c" style="left:261.92px;top:910.20px;width:39.97px;height:38.09px;background:#6b53b0"></div>
<div class="c" style="left:301.29px;top:910.20px;width:39.97px;height:38.09px;background:#898339"></div>
<div class="c" style="left:340.66px;top:910.20px;width:39.97px;height:38.09px;background:#717134"></div>
<div class="c" style="left:380.03px;top:910.20px;width:39.97px;height:38.09px;background:#b79644"></div>
<div class="c" style="left:419.40px;top:910.20px;width:39.37px;height:38.09px;background:#c8c8c8"></div>
<div class="a" style="left:45.38px;top:548.34px;font-size:8.00px;color:#383838;transform:translate(-50%,-50%) scaleX(1.135)">1</div>
<div class="a" style="left:84.75px;top:548.34px;font-size:8.00px;color:#d5bf8f;transform:translate(-50%,-50%) scaleX(1.135)">-0.089</div>
<div class="a" style="left:124.12px;top:548.34px;font-size:8.00px;color:#262033;transform:translate(-50%,-50%) scaleX(1.135)">0.62</div>
<div class="a" style="left:163.49px;top:548.34px;font-size:8.00px;color:#382b1c;transform:translate(-50%,-50%) scaleX(1.135)">0.023</div>
<div class="a" style="left:202.86px;top:548.34px;font-size:8.00px;color:#b9b9b3;transform:translate(-50%,-50%) scaleX(1.135)">-0.58</div>
<div class="a" style="left:242.23px;top:548.34px;font-size:8.00px;color:#b6b6a1;transform:translate(-50%,-50%) scaleX(1.135)">-0.46</div>
<div class="a" style="left:281.60px;top:548.34px;font-size:8.00px;color:#b7b7a8;transform:translate(-50%,-50%) scaleX(1.135)">-0.55</div>
<div class="a" style="left:320.97px;top:548.34px;font-size:8.00px;color:#332026;transform:translate(-50%,-50%) scaleX(1.135)">0.32</div>
<div class="a" style="left:360.34px;top:548.34px;font-size:8.00px;color:#382c1d;transform:translate(-50%,-50%) scaleX(1.135)">0.0013</div>
<div class="a" style="left:399.71px;top:548.34px;font-size:8.00px;color:#382d1d;transform:translate(-50%,-50%) scaleX(1.135)">-0.043</div>
<div class="a" style="left:439.08px;top:548.34px;font-size:8.00px;color:#bbba98;transform:translate(-50%,-50%) scaleX(1.135)">-0.32</div>
<div class="a" style="left:45.38px;top:586.43px;font-size:8.00px;color:#d5bf8f;transform:translate(-50%,-50%) scaleX(1.135)">-0.089</div>
<div class="a" style="left:84.75px;top:586.43px;font-size:8.00px;color:#383838;transform:translate(-50%,-50%) scaleX(1.135)">1</div>
<div class="a" style="left:124.12px;top:586.43px;font-size:8.00px;color:#c8c18f;transform:translate(-50%,-50%) scaleX(1.135)">-0.19</div>
<div class="a" style="left:163.49px;top:586.43px;font-size:8.00px;color:#37261d;transform:translate(-50%,-50%) scaleX(1.135)">0.11</div>
<div class="a" style="left:202.86px;top:586.43px;font-size:8.00px;color:#d1c18f;transform:translate(-50%,-50%) scaleX(1.135)">-0.12</div>
<div class="a" style="left:242.23px;top:586.43px;font-size:8.00px;color:#bfbc95;transform:translate(-50%,-50%) scaleX(1.135)">-0.28</div>
<div class="a" style="left:281.60px;top:586.43px;font-size:8.00px;color:#382b1c;transform:translate(-50%,-50%) scaleX(1.135)">0.027</div>
<div class="a" style="left:320.97px;top:586.43px;font-size:8.00px;color:#38281c;transform:translate(-50%,-50%) scaleX(1.135)">0.073</div>
<div class="a" style="left:360.34px;top:586.43px;font-size:8.00px;color:#ccc18f;transform:translate(-50%,-50%) scaleX(1.135)">-0.16</div>
<div class="a" style="left:399.71px;top:586.43px;font-size:8.00px;color:#351e1c;transform:translate(-50%,-50%) scaleX(1.135)">0.23</div>
<div class="a" style="left:439.08px;top:586.43px;font-size:8.00px;color:#38281c;transform:translate(-50%,-50%) scaleX(1.135)">0.069</div>
<div class="a" style="left:45.38px;top:624.52px;font-size:8.00px;color:#262033;transform:translate(-50%,-50%) scaleX(1.135)">0.62</div>
<div class="a" style="left:84.75px;top:624.52px;font-size:8.00px;color:#c8c18f;transform:translate(-50%,-50%) scaleX(1.135)">-0.19</div>
<div class="a" style="left:124.12px;top:624.52px;font-size:8.00px;color:#383838;transform:translate(-50%,-50%) scaleX(1.135)">1</div>
<div class="a" style="left:163.49px;top:624.52px;font-size:8.00px;color:#38291c;transform:translate(-50%,-50%) scaleX(1.135)">0.066</div>
<div class="a" style="left:202.86px;top:624.52px;font-size:8.00px;color:#b6b6a0;transform:translate(-50%,-50%) scaleX(1.135)">-0.44</div>
<div class="a" style="left:242.23px;top:624.52px;font-size:8.00px;color:#b7b79e;transform:translate(-50%,-50%) scaleX(1.135)">-0.41</div>
<div class="a" style="left:281.60px;top:624.52px;font-size:8.00px;color:#b6b6a1;transform:translate(-50%,-50%) scaleX(1.135)">-0.46</div>
<div class="a" style="left:320.97px;top:624.52px;font-size:8.00px;color:#342025;transform:translate(-50%,-50%) scaleX(1.135)">0.31</div>
<div class="a" style="left:360.34px;top:624.52px;font-size:8.00px;color:#382c1d;transform:translate(-50%,-50%) scaleX(1.135)">-0.0051</div>
<div class="a" style="left:399.71px;top:624.52px;font-size:8.00px;color:#382c1c;transform:translate(-50%,-50%) scaleX(1.135)">0.014</div>
<div class="a" style="left:439.08px;top:624.52px;font-size:8.00px;color:#b9b999;transform:translate(-50%,-50%) scaleX(1.135)">-0.34</div>
<div class="a" style="left:45.38px;top:662.62px;font-size:8.00px;color:#382b1c;transform:translate(-50%,-50%) scaleX(1.135)">0.023</div>
<div class="a" style="left:84.75px;top:662.62px;font-size:8.00px;color:#37261d;transform:translate(-50%,-50%) scaleX(1.135)">0.11</div>
<div class="a" style="left:124.12px;top:662.62px;font-size:8.00px;color:#38291c;transform:translate(-50%,-50%) scaleX(1.135)">0.066</div>
<div class="a" style="left:163.49px;top:662.62px;font-size:8.00px;color:#383838;transform:translate(-50%,-50%) scaleX(1.135)">1</div>
<div class="a" style="left:202.86px;top:662.62px;font-size:8.00px;color:#bcba97;transform:translate(-50%,-50%) scaleX(1.135)">-0.31</div>
<div class="a" style="left:242.23px;top:662.62px;font-size:8.00px;color:#c4bf92;transform:translate(-50%,-50%) scaleX(1.135)">-0.23</div>
<div class="a" style="left:281.60px;top:662.62px;font-size:8.00px;color:#c6c091;transform:translate(-50%,-50%) scaleX(1.135)">-0.21</div>
<div class="a" style="left:320.97px;top:662.62px;font-size:8.00px;color:#37271d;transform:translate(-50%,-50%) scaleX(1.135)">0.089</div>
<div class="a" style="left:360.34px;top:662.62px;font-size:8.00px;color:#37241d;transform:translate(-50%,-50%) scaleX(1.135)">0.13</div>
<div class="a" style="left:399.71px;top:662.62px;font-size:8.00px;color:#382a1c;transform:translate(-50%,-50%) scaleX(1.135)">0.046</div>
<div class="a" style="left:439.08px;top:662.62px;font-size:8.00px;color:#cec18f;transform:translate(-50%,-50%) scaleX(1.135)">-0.14</div>
<div class="a" style="left:45.38px;top:700.70px;font-size:8.00px;color:#b9b9b3;transform:translate(-50%,-50%) scaleX(1.135)">-0.58</div>
<div class="a" style="left:84.75px;top:700.70px;font-size:8.00px;color:#d1c18f;transform:translate(-50%,-50%) scaleX(1.135)">-0.12</div>
<div class="a" style="left:124.12px;top:700.70px;font-size:8.00px;color:#b6b6a0;transform:translate(-50%,-50%) scaleX(1.135)">-0.44</div>
<div class="a" style="left:163.49px;top:700.70px;font-size:8.00px;color:#bcba97;transform:translate(-50%,-50%) scaleX(1.135)">-0.31</div>
<div class="a" style="left:202.86px;top:700.70px;font-size:8.00px;color:#383838;transform:translate(-50%,-50%) scaleX(1.135)">1</div>
<div class="a" style="left:242.23px;top:700.70px;font-size:8.00px;color:#362332;transform:translate(-50%,-50%) scaleX(1.135)">0.41</div>
<div class="a" style="left:281.60px;top:700.70px;font-size:8.00px;color:#341f23;transform:translate(-50%,-50%) scaleX(1.135)">0.3</div>
<div class="a" style="left:320.97px;top:700.70px;font-size:8.00px;color:#b8b89d;transform:translate(-50%,-50%) scaleX(1.135)">-0.39</div>
<div class="a" style="left:360.34px;top:700.70px;font-size:8.00px;color:#b8b89d;transform:translate(-50%,-50%) scaleX(1.135)">-0.39</div>
<div class="a" style="left:399.71px;top:700.70px;font-size:8.00px;color:#36241d;transform:translate(-50%,-50%) scaleX(1.135)">0.14</div>
<div class="a" style="left:439.08px;top:700.70px;font-size:8.00px;color:#37261d;transform:translate(-50%,-50%) scaleX(1.135)">0.1</div>
<div class="a" style="left:45.38px;top:738.79px;font-size:8.00px;color:#b6b6a1;transform:translate(-50%,-50%) scaleX(1.135)">-0.46</div>
<div class="a" style="left:84.75px;top:738.79px;font-size:8.00px;color:#bfbc95;transform:translate(-50%,-50%) scaleX(1.135)">-0.28</div>
<div class="a" style="left:124.12px;top:738.79px;font-size:8.00px;color:#b7b79e;transform:translate(-50%,-50%) scaleX(1.135)">-0.41</div>
<div class="a" style="left:163.49px;top:738.79px;font-size:8.00px;color:#c4bf92;transform:translate(-50%,-50%) scaleX(1.135)">-0.23</div>
<div class="a" style="left:202.86px;top:738.79px;font-size:8.00px;color:#362332;transform:translate(-50%,-50%) scaleX(1.135)">0.41</div>
<div class="a" style="left:242.23px;top:738.79px;font-size:8.00px;color:#383838;transform:translate(-50%,-50%) scaleX(1.135)">1</div>
<div class="a" style="left:281.60px;top:738.79px;font-size:8.00px;color:#35222e;transform:translate(-50%,-50%) scaleX(1.135)">0.36</div>
<div class="a" style="left:320.97px;top:738.79px;font-size:8.00px;color:#b9b99a;transform:translate(-50%,-50%) scaleX(1.135)">-0.35</div>
<div class="a" style="left:360.34px;top:738.79px;font-size:8.00px;color:#c3bf93;transform:translate(-50%,-50%) scaleX(1.135)">-0.24</div>
<div class="a" style="left:399.71px;top:738.79px;font-size:8.00px;color:#c9c18f;transform:translate(-50%,-50%) scaleX(1.135)">-0.18</div>
<div class="a" style="left:439.08px;top:738.79px;font-size:8.00px;color:#34212a;transform:translate(-50%,-50%) scaleX(1.135)">0.34</div>
<div class="a" style="left:45.38px;top:776.88px;font-size:8.00px;color:#b7b7a8;transform:translate(-50%,-50%) scaleX(1.135)">-0.55</div>
<div class="a" style="left:84.75px;top:776.88px;font-size:8.00px;color:#382b1c;transform:translate(-50%,-50%) scaleX(1.135)">0.027</div>
<div class="a" style="left:124.12px;top:776.88px;font-size:8.00px;color:#b6b6a1;transform:translate(-50%,-50%) scaleX(1.135)">-0.46</div>
<div class="a" style="left:163.49px;top:776.88px;font-size:8.00px;color:#c6c091;transform:translate(-50%,-50%) scaleX(1.135)">-0.21</div>
<div class="a" style="left:202.86px;top:776.88px;font-size:8.00px;color:#341f23;transform:translate(-50%,-50%) scaleX(1.135)">0.3</div>
<div class="a" style="left:242.23px;top:776.88px;font-size:8.00px;color:#35222e;transform:translate(-50%,-50%) scaleX(1.135)">0.36</div>
<div class="a" style="left:281.60px;top:776.88px;font-size:8.00px;color:#383838;transform:translate(-50%,-50%) scaleX(1.135)">1</div>
<div class="a" style="left:320.97px;top:776.88px;font-size:8.00px;color:#b7b79f;transform:translate(-50%,-50%) scaleX(1.135)">-0.43</div>
<div class="a" style="left:360.34px;top:776.88px;font-size:8.00px;color:#b8b89c;transform:translate(-50%,-50%) scaleX(1.135)">-0.38</div>
<div class="a" style="left:399.71px;top:776.88px;font-size:8.00px;color:#c0bd93;transform:translate(-50%,-50%) scaleX(1.135)">-0.26</div>
<div class="a" style="left:439.08px;top:776.88px;font-size:8.00px;color:#252133;transform:translate(-50%,-50%) scaleX(1.135)">0.63</div>
<div class="a" style="left:45.38px;top:814.97px;font-size:8.00px;color:#332026;transform:translate(-50%,-50%) scaleX(1.135)">0.32</div>
<div class="a" style="left:84.75px;top:814.97px;font-size:8.00px;color:#38281c;transform:translate(-50%,-50%) scaleX(1.135)">0.073</div>
<div class="a" style="left:124.12px;top:814.97px;font-size:8.00px;color:#342025;transform:translate(-50%,-50%) scaleX(1.135)">0.31</div>
<div class="a" style="left:163.49px;top:814.97px;font-size:8.00px;color:#37271d;transform:translate(-50%,-50%) scaleX(1.135)">0.089</div>
<div class="a" style="left:202.86px;top:814.97px;font-size:8.00px;color:#b8b89d;transform:translate(-50%,-50%) scaleX(1.135)">-0.39</div>
<div class="a" style="left:242.23px;top:814.97px;font-size:8.00px;color:#b9b99a;transform:translate(-50%,-50%) scaleX(1.135)">-0.35</div>
<div class="a" style="left:281.60px;top:814.97px;font-size:8.00px;color:#b7b79f;transform:translate(-50%,-50%) scaleX(1.135)">-0.43</div>
<div class="a" style="left:320.97px;top:814.97px;font-size:8.00px;color:#383838;transform:translate(-50%,-50%) scaleX(1.135)">1</div>
<div class="a" style="left:360.34px;top:814.97px;font-size:8.00px;color:#36201c;transform:translate(-50%,-50%) scaleX(1.135)">0.19</div>
<div class="a" style="left:399.71px;top:814.97px;font-size:8.00px;color:#361f1c;transform:translate(-50%,-50%) scaleX(1.135)">0.2</div>
<div class="a" style="left:439.08px;top:814.97px;font-size:8.00px;color:#bfbc94;transform:translate(-50%,-50%) scaleX(1.135)">-0.27</div>
<div class="a" style="left:45.38px;top:853.07px;font-size:8.00px;color:#382c1d;transform:translate(-50%,-50%) scaleX(1.135)">0.0013</div>
<div class="a" style="left:84.75px;top:853.07px;font-size:8.00px;color:#ccc18f;transform:translate(-50%,-50%) scaleX(1.135)">-0.16</div>
<div class="a" style="left:124.12px;top:853.07px;font-size:8.00px;color:#382c1d;transform:translate(-50%,-50%) scaleX(1.135)">-0.0051</div>
<div class="a" style="left:163.49px;top:853.07px;font-size:8.00px;color:#37241d;transform:translate(-50%,-50%) scaleX(1.135)">0.13</div>
<div class="a" style="left:202.86px;top:853.07px;font-size:8.00px;color:#b8b89d;transform:translate(-50%,-50%) scaleX(1.135)">-0.39</div>
<div class="a" style="left:242.23px;top:853.07px;font-size:8.00px;color:#c3bf93;transform:translate(-50%,-50%) scaleX(1.135)">-0.24</div>
<div class="a" style="left:281.60px;top:853.07px;font-size:8.00px;color:#b8b89c;transform:translate(-50%,-50%) scaleX(1.135)">-0.38</div>
<div class="a" style="left:320.97px;top:853.07px;font-size:8.00px;color:#36201c;transform:translate(-50%,-50%) scaleX(1.135)">0.19</div>
<div class="a" style="left:360.34px;top:853.07px;font-size:8.00px;color:#383838;transform:translate(-50%,-50%) scaleX(1.135)">1</div>
<div class="a" style="left:399.71px;top:853.07px;font-size:8.00px;color:#362d1d;transform:translate(-50%,-50%) scaleX(1.135)">-0.069</div>
<div class="a" style="left:439.08px;top:853.07px;font-size:8.00px;color:#b9b999;transform:translate(-50%,-50%) scaleX(1.135)">-0.34</div>
<div class="a" style="left:45.38px;top:891.15px;font-size:8.00px;color:#382d1d;transform:translate(-50%,-50%) scaleX(1.135)">-0.043</div>
<div class="a" style="left:84.75px;top:891.15px;font-size:8.00px;color:#351e1c;transform:translate(-50%,-50%) scaleX(1.135)">0.23</div>
<div class="a" style="left:124.12px;top:891.15px;font-size:8.00px;color:#382c1c;transform:translate(-50%,-50%) scaleX(1.135)">0.014</div>
<div class="a" style="left:163.49px;top:891.15px;font-size:8.00px;color:#382a1c;transform:translate(-50%,-50%) scaleX(1.135)">0.046</div>
<div class="a" style="left:202.86px;top:891.15px;font-size:8.00px;color:#36241d;transform:translate(-50%,-50%) scaleX(1.135)">0.14</div>
<div class="a" style="left:242.23px;top:891.15px;font-size:8.00px;color:#c9c18f;transform:translate(-50%,-50%) scaleX(1.135)">-0.18</div>
<div class="a" style="left:281.60px;top:891.15px;font-size:8.00px;color:#c0bd93;transform:translate(-50%,-50%) scaleX(1.135)">-0.26</div>
<div class="a" style="left:320.97px;top:891.15px;font-size:8.00px;color:#361f1c;transform:translate(-50%,-50%) scaleX(1.135)">0.2</div>
<div class="a" style="left:360.34px;top:891.15px;font-size:8.00px;color:#362d1d;transform:translate(-50%,-50%) scaleX(1.135)">-0.069</div>
<div class="a" style="left:399.71px;top:891.15px;font-size:8.00px;color:#383838;transform:translate(-50%,-50%) scaleX(1.135)">1</div>
<div class="a" style="left:439.08px;top:891.15px;font-size:8.00px;color:#d2c08f;transform:translate(-50%,-50%) scaleX(1.135)">-0.11</div>
<div class="a" style="left:45.38px;top:929.25px;font-size:8.00px;color:#bbba98;transform:translate(-50%,-50%) scaleX(1.135)">-0.32</div>
<div class="a" style="left:84.75px;top:929.25px;font-size:8.00px;color:#38281c;transform:translate(-50%,-50%) scaleX(1.135)">0.069</div>
<div class="a" style="left:124.12px;top:929.25px;font-size:8.00px;color:#b9b999;transform:translate(-50%,-50%) scaleX(1.135)">-0.34</div>
<div class="a" style="left:163.49px;top:929.25px;font-size:8.00px;color:#cec18f;transform:translate(-50%,-50%) scaleX(1.135)">-0.14</div>
<div class="a" style="left:202.86px;top:929.25px;font-size:8.00px;color:#37261d;transform:translate(-50%,-50%) scaleX(1.135)">0.1</div>
<div class="a" style="left:242.23px;top:929.25px;font-size:8.00px;color:#34212a;transform:translate(-50%,-50%) scaleX(1.135)">0.34</div>
<div class="a" style="left:281.60px;top:929.25px;font-size:8.00px;color:#252133;transform:translate(-50%,-50%) scaleX(1.135)">0.63</div>
<div class="a" style="left:320.97px;top:929.25px;font-size:8.00px;color:#bfbc94;transform:translate(-50%,-50%) scaleX(1.135)">-0.27</div>
<div class="a" style="left:360.34px;top:929.25px;font-size:8.00px;color:#b9b999;transform:translate(-50%,-50%) scaleX(1.135)">-0.34</div>
<div class="a" style="left:399.71px;top:929.25px;font-size:8.00px;color:#d2c08f;transform:translate(-50%,-50%) scaleX(1.135)">-0.11</div>
<div class="a" style="left:439.08px;top:929.25px;font-size:8.00px;color:#383838;transform:translate(-50%,-50%) scaleX(1.135)">1</div>
<div class="lbl" style="left:14.9px;top:549.54px;font-size:8.9px;transform:translate(-50%,-50%) rotate(-90deg)">anger</div>
<div class="tk" style="left:23.2px;top:547.94px;width:2.6px;height:0.8px"></div>
<div class="lbl" style="left:14.9px;top:587.63px;font-size:8.9px;transform:translate(-50%,-50%) rotate(-90deg)">anticipation</div>
<div class="tk" style="left:23.2px;top:586.03px;width:2.6px;height:0.8px"></div>
<div class="lbl" style="left:14.9px;top:625.73px;font-size:8.9px;transform:translate(-50%,-50%) rotate(-90deg)">disgust</div>
<div class="tk" style="left:23.2px;top:624.12px;width:2.6px;height:0.8px"></div>
<div class="lbl" style="left:14.9px;top:663.82px;font-size:8.9px;transform:translate(-50%,-50%) rotate(-90deg)">fear</div>
<div class="tk" style="left:23.2px;top:662.22px;width:2.6px;height:0.8px"></div>
<div class="lbl" style="left:14.9px;top:701.90px;font-size:8.9px;transform:translate(-50%,-50%) rotate(-90deg)">joy</div>
<div class="tk" style="left:23.2px;top:700.30px;width:2.6px;height:0.8px"></div>
<div class="lbl" style="left:14.9px;top:740.00px;font-size:8.9px;transform:translate(-50%,-50%) rotate(-90deg)">love</div>
<div class="tk" style="left:23.2px;top:738.39px;width:2.6px;height:0.8px"></div>
<div class="lbl" style="left:14.9px;top:778.09px;font-size:8.9px;transform:translate(-50%,-50%) rotate(-90deg)">optimism</div>
<div class="tk" style="left:23.2px;top:776.49px;width:2.6px;height:0.8px"></div>
<div class="lbl" style="left:14.9px;top:816.17px;font-size:8.9px;transform:translate(-50%,-50%) rotate(-90deg)">pessimism</div>
<div class="tk" style="left:23.2px;top:814.57px;width:2.6px;height:0.8px"></div>
<div class="lbl" style="left:14.9px;top:854.27px;font-size:8.9px;transform:translate(-50%,-50%) rotate(-90deg)">sadness</div>
<div class="tk" style="left:23.2px;top:852.67px;width:2.6px;height:0.8px"></div>
<div class="lbl" style="left:14.9px;top:892.36px;font-size:8.9px;transform:translate(-50%,-50%) rotate(-90deg)">surprise</div>
<div class="tk" style="left:23.2px;top:890.75px;width:2.6px;height:0.8px"></div>
<div class="lbl" style="left:14.9px;top:930.45px;font-size:8.9px;transform:translate(-50%,-50%) rotate(-90deg)">trust</div>
<div class="tk" style="left:23.2px;top:928.85px;width:2.6px;height:0.8px"></div>
<div class="lbl" style="left:44.09px;top:954.8px;font-size:8.9px;transform-origin:0 0;transform:rotate(-90deg) translate(-100%,-50%)">anger</div>
<div class="tk" style="left:44.98px;top:948.6px;width:0.8px;height:2.8px"></div>
<div class="lbl" style="left:83.45px;top:954.8px;font-size:8.9px;transform-origin:0 0;transform:rotate(-90deg) translate(-100%,-50%)">anticipation</div>
<div class="tk" style="left:84.35px;top:948.6px;width:0.8px;height:2.8px"></div>
<div class="lbl" style="left:122.83px;top:954.8px;font-size:8.9px;transform-origin:0 0;transform:rotate(-90deg) translate(-100%,-50%)">disgust</div>
<div class="tk" style="left:123.72px;top:948.6px;width:0.8px;height:2.8px"></div>
<div class="lbl" style="left:162.19px;top:954.8px;font-size:8.9px;transform-origin:0 0;transform:rotate(-90deg) translate(-100%,-50%)">fear</div>
<div class="tk" style="left:163.09px;top:948.6px;width:0.8px;height:2.8px"></div>
<div class="lbl" style="left:201.56px;top:954.8px;font-size:8.9px;transform-origin:0 0;transform:rotate(-90deg) translate(-100%,-50%)">joy</div>
<div class="tk" style="left:202.46px;top:948.6px;width:0.8px;height:2.8px"></div>
<div class="lbl" style="left:240.93px;top:954.8px;font-size:8.9px;transform-origin:0 0;transform:rotate(-90deg) translate(-100%,-50%)">love</div>
<div class="tk" style="left:241.83px;top:948.6px;width:0.8px;height:2.8px"></div>
<div class="lbl" style="left:280.30px;top:954.8px;font-size:8.9px;transform-origin:0 0;transform:rotate(-90deg) translate(-100%,-50%)">optimism</div>
<div class="tk" style="left:281.20px;top:948.6px;width:0.8px;height:2.8px"></div>
<div class="lbl" style="left:319.67px;top:954.8px;font-size:8.9px;transform-origin:0 0;transform:rotate(-90deg) translate(-100%,-50%)">pessimism</div>
<div class="tk" style="left:320.57px;top:948.6px;width:0.8px;height:2.8px"></div>
<div class="lbl" style="left:359.04px;top:954.8px;font-size:8.9px;transform-origin:0 0;transform:rotate(-90deg) translate(-100%,-50%)">sadness</div>
<div class="tk" style="left:359.94px;top:948.6px;width:0.8px;height:2.8px"></div>
<div class="lbl" style="left:398.41px;top:954.8px;font-size:8.9px;transform-origin:0 0;transform:rotate(-90deg) translate(-100%,-50%)">surprise</div>
<div class="tk" style="left:399.31px;top:948.6px;width:0.8px;height:2.8px"></div>
<div class="lbl" style="left:437.78px;top:954.8px;font-size:8.9px;transform-origin:0 0;transform:rotate(-90deg) translate(-100%,-50%)">trust</div>
<div class="tk" style="left:438.69px;top:948.6px;width:0.8px;height:2.8px"></div>
<div class="c" style="left:494.00px;top:16.00px;width:19.40px;height:379.00px;box-shadow:0 0 0 1px #1a1a20;background:linear-gradient(to bottom,#c8c8c8 0.00%,#b4b4db 1.25%,#acacd9 2.50%,#a3a3d6 3.75%,#9999d3 5.00%,#9090d0 6.25%,#8989cd 7.50%,#8383c9 8.75%,#7c7cc6 10.00%,#7676c3 11.25%,#7070c0 12.50%,#6e6dbd 13.75%,#6d69b9 15.00%,#6b66b7 16.25%,#6963b5 17.50%,#6860b4 18.75%,#685bb2 20.00%,#6857b1 21.25%,#6a54b0 22.50%,#6c52b0 23.75%,#6f50b0 25.00%,#7750b4 26.25%,#7f50b7 27.50%,#8852b8 28.75%,#9355b8 30.00%,#9d58b8 31.25%,#a85cb8 32.50%,#b25fb8 33.75%,#b860b4 35.00%,#ba60ad 36.25%,#bc60a7 37.50%,#ba5c9f 38.75%,#b85a97 40.00%,#b5578e 41.25%,#b15477 42.50%,#b24e66 43.75%,#b54957 45.00%,#b7454a 46.25%,#b94443 47.50%,#bb443e 48.75%,#bc463b 50.00%,#bd4f3d 51.25%,#be583f 52.50%,#bf5f40 53.75%,#c16540 55.00%,#c26c40 56.25%,#c4723f 57.50%,#c6793e 58.75%,#c77f3e 60.00%,#c7863e 61.25%,#c88b3e 62.50%,#c78d3f 63.75%,#c78e3f 65.00%,#c59040 66.25%,#c19242 67.50%,#bd9444 68.75%,#b89544 70.00%,#b39743 71.25%,#ae9842 72.50%,#a99741 73.75%,#a4963f 75.00%,#9e923f 76.25%,#998f3e 77.50%,#938b3d 78.75%,#8c853a 80.00%,#857f38 81.25%,#7e7a37 82.50%,#777536 83.75%,#707034 85.00%,#6c6c33 86.25%,#686832 87.50%,#646431 88.75%,#5f5f2f 90.00%,#5b5b2e 91.25%,#56562c 92.50%,#505029 93.75%,#4a4a26 95.00%,#444423 96.25%,#3d3d20 97.50%,#39391f 98.75%,#373720 100.00%)"></div>
<div class="tk" style="left:513.40px;top:15.60px;width:3.2px;height:0.8px"></div>
<div class="lbl" style="left:518.50px;top:16.70px;font-size:6.90px;transform:translateY(-50%)">1.0</div>
<div class="tk" style="left:513.40px;top:62.68px;width:3.2px;height:0.8px"></div>
<div class="lbl" style="left:518.50px;top:63.78px;font-size:6.90px;transform:translateY(-50%)">0.8</div>
<div class="tk" style="left:513.40px;top:109.76px;width:3.2px;height:0.8px"></div>
<div class="lbl" style="left:518.50px;top:110.86px;font-size:6.90px;transform:translateY(-50%)">0.6</div>
<div class="tk" style="left:513.40px;top:156.84px;width:3.2px;height:0.8px"></div>
<div class="lbl" style="left:518.50px;top:157.94px;font-size:6.90px;transform:translateY(-50%)">0.4</div>
<div class="tk" style="left:513.40px;top:203.92px;width:3.2px;height:0.8px"></div>
<div class="lbl" style="left:518.50px;top:205.02px;font-size:6.90px;transform:translateY(-50%)">0.2</div>
<div class="tk" style="left:513.40px;top:251.00px;width:3.2px;height:0.8px"></div>
<div class="lbl" style="left:518.50px;top:252.10px;font-size:6.90px;transform:translateY(-50%)">0.0</div>
<div class="tk" style="left:513.40px;top:298.08px;width:3.2px;height:0.8px"></div>
<div class="lbl" style="left:518.50px;top:299.18px;font-size:6.90px;transform:translateY(-50%)"><span style="display:inline-block;width:0.8em;text-align:left;transform-origin:0 50%;transform:scaleX(1.3)">−</span>0.2</div>
<div class="tk" style="left:513.40px;top:345.17px;width:3.2px;height:0.8px"></div>
<div class="lbl" style="left:518.50px;top:346.27px;font-size:6.90px;transform:translateY(-50%)"><span style="display:inline-block;width:0.8em;text-align:left;transform-origin:0 50%;transform:scaleX(1.3)">−</span>0.4</div>
<div class="tk" style="left:513.40px;top:392.25px;width:3.2px;height:0.8px"></div>
<div class="lbl" style="left:518.50px;top:393.35px;font-size:6.90px;transform:translateY(-50%)"><span style="display:inline-block;width:0.8em;text-align:left;transform-origin:0 50%;transform:scaleX(1.3)">−</span>0.6</div>
<div class="c" style="left:485.30px;top:529.50px;width:22.80px;height:419.10px;box-shadow:0 0 0 1px #1a1a20;background:linear-gradient(to bottom,#c8c8c8 0.00%,#b4b4db 1.25%,#acacd9 2.50%,#a3a3d6 3.75%,#9999d3 5.00%,#9090d0 6.25%,#8989cd 7.50%,#8383c9 8.75%,#7c7cc6 10.00%,#7676c3 11.25%,#7070c0 12.50%,#6e6dbd 13.75%,#6d69b9 15.00%,#6b66b7 16.25%,#6963b5 17.50%,#6860b4 18.75%,#685bb2 20.00%,#6857b1 21.25%,#6a54b0 22.50%,#6c52b0 23.75%,#6f50b0 25.00%,#7750b4 26.25%,#7f50b7 27.50%,#8852b8 28.75%,#9355b8 30.00%,#9d58b8 31.25%,#a85cb8 32.50%,#b25fb8 33.75%,#b860b4 35.00%,#ba60ad 36.25%,#bc60a7 37.50%,#ba5c9f 38.75%,#b85a97 40.00%,#b5578e 41.25%,#b15477 42.50%,#b24e66 43.75%,#b54957 45.00%,#b7454a 46.25%,#b94443 47.50%,#bb443e 48.75%,#bc463b 50.00%,#bd4f3d 51.25%,#be583f 52.50%,#bf5f40 53.75%,#c16540 55.00%,#c26c40 56.25%,#c4723f 57.50%,#c6793e 58.75%,#c77f3e 60.00%,#c7863e 61.25%,#c88b3e 62.50%,#c78d3f 63.75%,#c78e3f 65.00%,#c59040 66.25%,#c19242 67.50%,#bd9444 68.75%,#b89544 70.00%,#b39743 71.25%,#ae9842 72.50%,#a99741 73.75%,#a4963f 75.00%,#9e923f 76.25%,#998f3e 77.50%,#938b3d 78.75%,#8c853a 80.00%,#857f38 81.25%,#7e7a37 82.50%,#777536 83.75%,#707034 85.00%,#6c6c33 86.25%,#686832 87.50%,#646431 88.75%,#5f5f2f 90.00%,#5b5b2e 91.25%,#56562c 92.50%,#505029 93.75%,#4a4a26 95.00%,#444423 96.25%,#3d3d20 97.50%,#39391f 98.75%,#373720 100.00%)"></div>
<div class="tk" style="left:508.10px;top:529.10px;width:3.2px;height:0.8px"></div>
<div class="lbl" style="left:514.40px;top:529.70px;font-size:8.40px;transform:translateY(-50%)">1.0</div>
<div class="tk" style="left:508.10px;top:582.15px;width:3.2px;height:0.8px"></div>
<div class="lbl" style="left:514.40px;top:582.75px;font-size:8.40px;transform:translateY(-50%)">0.8</div>
<div class="tk" style="left:508.10px;top:635.20px;width:3.2px;height:0.8px"></div>
<div class="lbl" style="left:514.40px;top:635.80px;font-size:8.40px;transform:translateY(-50%)">0.6</div>
<div class="tk" style="left:508.10px;top:688.25px;width:3.2px;height:0.8px"></div>
<div class="lbl" style="left:514.40px;top:688.85px;font-size:8.40px;transform:translateY(-50%)">0.4</div>
<div class="tk" style="left:508.10px;top:741.30px;width:3.2px;height:0.8px"></div>
<div class="lbl" style="left:514.40px;top:741.90px;font-size:8.40px;transform:translateY(-50%)">0.2</div>
<div class="tk" style="left:508.10px;top:794.35px;width:3.2px;height:0.8px"></div>
<div class="lbl" style="left:514.40px;top:794.95px;font-size:8.40px;transform:translateY(-50%)">0.0</div>
<div class="tk" style="left:508.10px;top:847.40px;width:3.2px;height:0.8px"></div>
<div class="lbl" style="left:514.40px;top:848.00px;font-size:8.40px;transform:translateY(-50%)"><span style="display:inline-block;width:0.8em;text-align:left;transform-origin:0 50%;transform:scaleX(1.3)">−</span>0.2</div>
<div class="tk" style="left:508.10px;top:900.45px;width:3.2px;height:0.8px"></div>
<div class="lbl" style="left:514.40px;top:901.05px;font-size:8.40px;transform:translateY(-50%)"><span style="display:inline-block;width:0.8em;text-align:left;transform-origin:0 50%;transform:scaleX(1.3)">−</span>0.4</div>
<div class="cap" style="left:119.4px;top:499.5px;font-size:17.2px;transform-origin:0 0;transform:scaleX(1.101)">(<b>a</b>) Profile feature correlations (17 &#215; 17)</div>
<div class="cap" style="left:104.4px;top:1013.4px;font-size:17.2px;transform-origin:0 0;transform:scaleX(1.119)">(<b>b</b>) Emotional feature correlations (11 &#215; 11)</div>
</body></html>
